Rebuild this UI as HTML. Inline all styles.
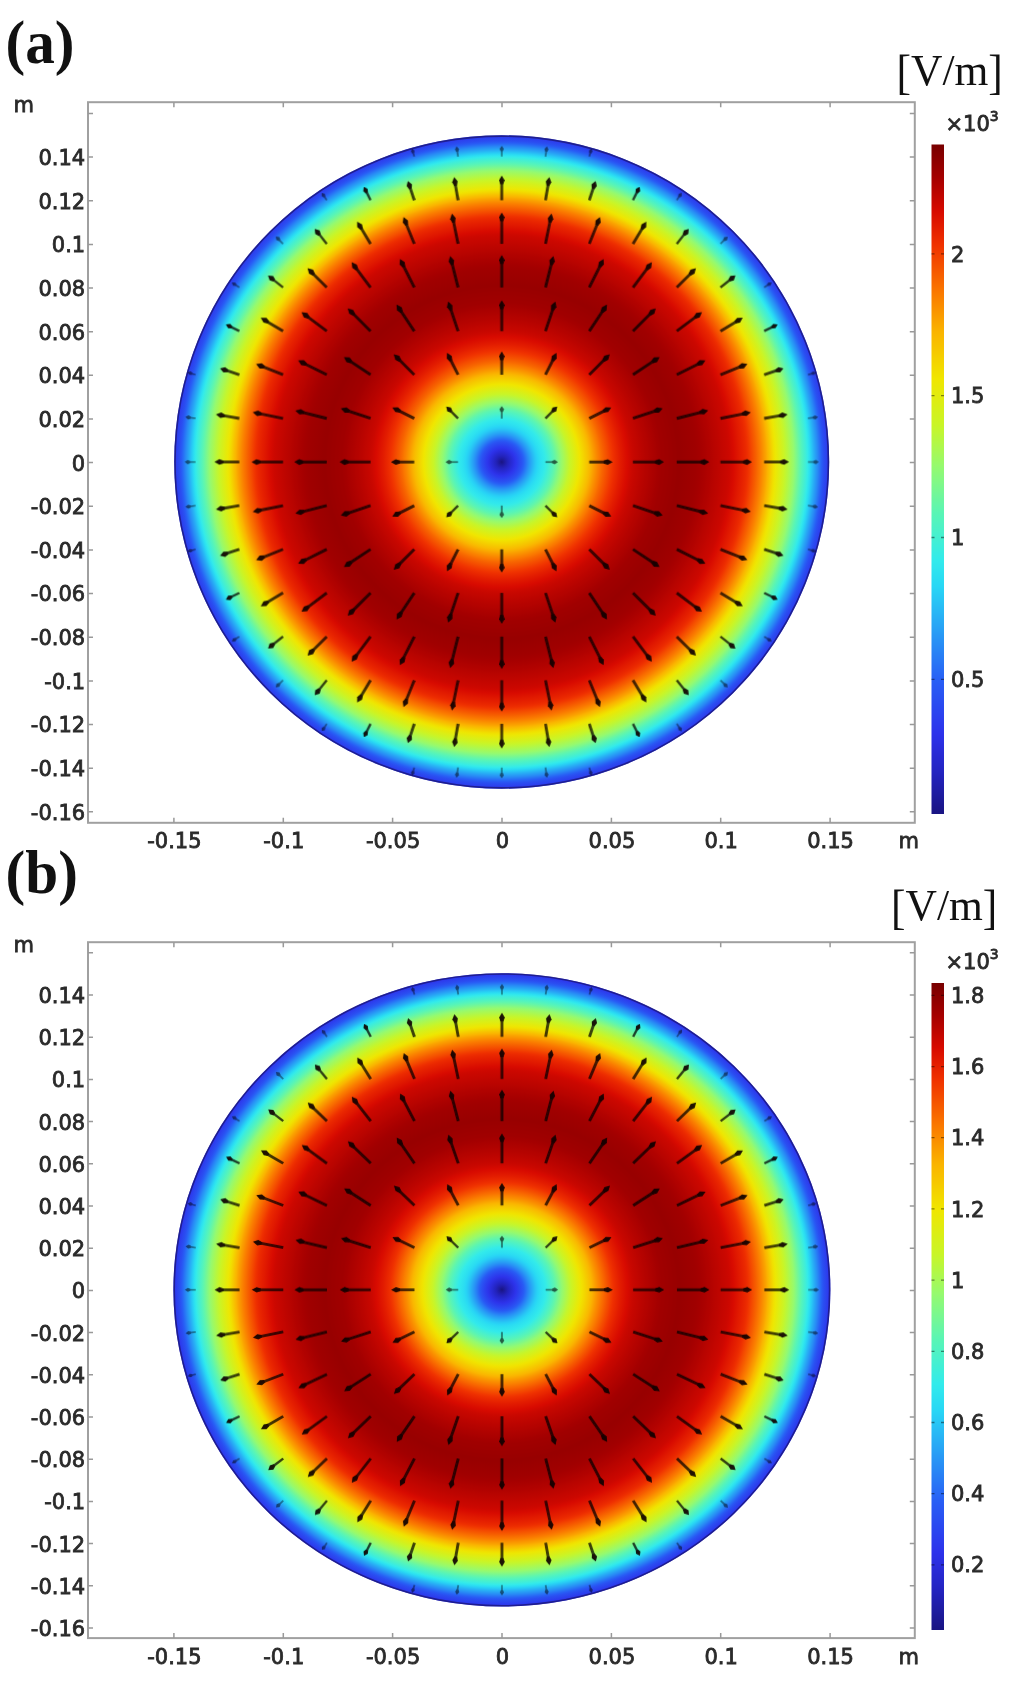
<!DOCTYPE html>
<html><head><meta charset="utf-8"><style>
html,body{margin:0;padding:0;background:#fff;width:1025px;height:1689px;overflow:hidden}
svg{display:block;filter:blur(0.45px)}
</style></head><body>
<svg width="1025" height="1689" viewBox="0 0 1025 1689">
<rect width="1025" height="1689" fill="#fff"/>
<defs><filter id="bl" x="-20%" y="-20%" width="140%" height="140%"><feGaussianBlur stdDeviation="0.7"/></filter></defs>
<style>.lb text{stroke:#2a2a2a;stroke-width:0.8px}</style>
<g class="lb" font-family="DejaVu Sans, Liberation Sans, sans-serif" font-size="21" fill="#2a2a2a">
<defs><radialGradient id="ga" gradientUnits="userSpaceOnUse" cx="0" cy="0" r="327.5"><stop offset="0.0000" stop-color="#191482"/><stop offset="0.0061" stop-color="#1c1996"/><stop offset="0.0122" stop-color="#201eaa"/><stop offset="0.0183" stop-color="#2323bc"/><stop offset="0.0244" stop-color="#2627c9"/><stop offset="0.0305" stop-color="#282bd6"/><stop offset="0.0366" stop-color="#2b2fe2"/><stop offset="0.0427" stop-color="#2d35ec"/><stop offset="0.0489" stop-color="#2c3eee"/><stop offset="0.0550" stop-color="#2b48f0"/><stop offset="0.0611" stop-color="#2a51f2"/><stop offset="0.0672" stop-color="#285ff5"/><stop offset="0.0733" stop-color="#2873f5"/><stop offset="0.0794" stop-color="#2888f5"/><stop offset="0.0855" stop-color="#289bf5"/><stop offset="0.0916" stop-color="#28acf5"/><stop offset="0.0977" stop-color="#28bdf5"/><stop offset="0.1038" stop-color="#28ccf5"/><stop offset="0.1099" stop-color="#28d7f5"/><stop offset="0.1160" stop-color="#2cdef1"/><stop offset="0.1221" stop-color="#2ee4ef"/><stop offset="0.1282" stop-color="#31e8ec"/><stop offset="0.1344" stop-color="#37ece5"/><stop offset="0.1405" stop-color="#40eed8"/><stop offset="0.1466" stop-color="#49f1cc"/><stop offset="0.1527" stop-color="#52f3bf"/><stop offset="0.1588" stop-color="#5cf5b2"/><stop offset="0.1649" stop-color="#6af6a1"/><stop offset="0.1710" stop-color="#7af88e"/><stop offset="0.1771" stop-color="#8af97c"/><stop offset="0.1832" stop-color="#98fa6b"/><stop offset="0.1893" stop-color="#a4f95b"/><stop offset="0.1954" stop-color="#b0f74a"/><stop offset="0.2015" stop-color="#bcf639"/><stop offset="0.2076" stop-color="#c8f528"/><stop offset="0.2137" stop-color="#d0f220"/><stop offset="0.2198" stop-color="#d8ef18"/><stop offset="0.2260" stop-color="#e0ec10"/><stop offset="0.2321" stop-color="#e8e908"/><stop offset="0.2382" stop-color="#f0e600"/><stop offset="0.2443" stop-color="#f2dd00"/><stop offset="0.2504" stop-color="#f4d400"/><stop offset="0.2565" stop-color="#f5cb00"/><stop offset="0.2626" stop-color="#f7c200"/><stop offset="0.2687" stop-color="#f9b800"/><stop offset="0.2748" stop-color="#faab00"/><stop offset="0.2809" stop-color="#fa9d00"/><stop offset="0.2870" stop-color="#fa9000"/><stop offset="0.2931" stop-color="#fa8300"/><stop offset="0.2992" stop-color="#fa7700"/><stop offset="0.3053" stop-color="#f86a00"/><stop offset="0.3115" stop-color="#f65f00"/><stop offset="0.3176" stop-color="#f55500"/><stop offset="0.3237" stop-color="#f44b00"/><stop offset="0.3298" stop-color="#f24100"/><stop offset="0.3359" stop-color="#f13700"/><stop offset="0.3420" stop-color="#ee2f00"/><stop offset="0.3481" stop-color="#ea2900"/><stop offset="0.3542" stop-color="#e72300"/><stop offset="0.3603" stop-color="#e31d00"/><stop offset="0.3664" stop-color="#e01800"/><stop offset="0.3725" stop-color="#dd1300"/><stop offset="0.3786" stop-color="#da0e00"/><stop offset="0.3847" stop-color="#d70a00"/><stop offset="0.3908" stop-color="#d10900"/><stop offset="0.3969" stop-color="#cb0800"/><stop offset="0.4031" stop-color="#c70700"/><stop offset="0.4092" stop-color="#c40600"/><stop offset="0.4153" stop-color="#c10600"/><stop offset="0.4214" stop-color="#be0500"/><stop offset="0.4275" stop-color="#bb0400"/><stop offset="0.4336" stop-color="#b80400"/><stop offset="0.4397" stop-color="#b50300"/><stop offset="0.4458" stop-color="#b30300"/><stop offset="0.4519" stop-color="#b00200"/><stop offset="0.4580" stop-color="#ad0200"/><stop offset="0.4641" stop-color="#ab0100"/><stop offset="0.4702" stop-color="#a80100"/><stop offset="0.4763" stop-color="#a50000"/><stop offset="0.4824" stop-color="#a30000"/><stop offset="0.4885" stop-color="#a00000"/><stop offset="0.4947" stop-color="#a00000"/><stop offset="0.5008" stop-color="#9e0000"/><stop offset="0.5069" stop-color="#9e0000"/><stop offset="0.5130" stop-color="#9c0000"/><stop offset="0.5191" stop-color="#9c0000"/><stop offset="0.5252" stop-color="#9a0000"/><stop offset="0.5313" stop-color="#9a0000"/><stop offset="0.5374" stop-color="#980000"/><stop offset="0.5435" stop-color="#980000"/><stop offset="0.5496" stop-color="#990000"/><stop offset="0.5557" stop-color="#9a0000"/><stop offset="0.5618" stop-color="#9b0000"/><stop offset="0.5679" stop-color="#9c0000"/><stop offset="0.5740" stop-color="#9d0000"/><stop offset="0.5802" stop-color="#9e0000"/><stop offset="0.5863" stop-color="#9f0000"/><stop offset="0.5924" stop-color="#a00000"/><stop offset="0.5985" stop-color="#a20000"/><stop offset="0.6046" stop-color="#a40000"/><stop offset="0.6107" stop-color="#a70000"/><stop offset="0.6168" stop-color="#a90100"/><stop offset="0.6229" stop-color="#ac0100"/><stop offset="0.6290" stop-color="#af0200"/><stop offset="0.6351" stop-color="#b10200"/><stop offset="0.6412" stop-color="#b40300"/><stop offset="0.6473" stop-color="#b70400"/><stop offset="0.6534" stop-color="#ba0400"/><stop offset="0.6595" stop-color="#bc0500"/><stop offset="0.6656" stop-color="#bf0500"/><stop offset="0.6718" stop-color="#c20600"/><stop offset="0.6779" stop-color="#c50600"/><stop offset="0.6840" stop-color="#c70700"/><stop offset="0.6901" stop-color="#ca0700"/><stop offset="0.6962" stop-color="#cd0800"/><stop offset="0.7023" stop-color="#d30900"/><stop offset="0.7084" stop-color="#d80b00"/><stop offset="0.7145" stop-color="#db1000"/><stop offset="0.7206" stop-color="#de1500"/><stop offset="0.7267" stop-color="#e11a00"/><stop offset="0.7328" stop-color="#e41e00"/><stop offset="0.7389" stop-color="#e72300"/><stop offset="0.7450" stop-color="#ea2800"/><stop offset="0.7511" stop-color="#ee2f00"/><stop offset="0.7573" stop-color="#f13a00"/><stop offset="0.7634" stop-color="#f34700"/><stop offset="0.7695" stop-color="#f55300"/><stop offset="0.7756" stop-color="#f65f00"/><stop offset="0.7817" stop-color="#f86c00"/><stop offset="0.7878" stop-color="#fa7800"/><stop offset="0.7939" stop-color="#fa8600"/><stop offset="0.8000" stop-color="#fa9500"/><stop offset="0.8061" stop-color="#faa300"/><stop offset="0.8122" stop-color="#fab400"/><stop offset="0.8183" stop-color="#f7c200"/><stop offset="0.8244" stop-color="#f4d100"/><stop offset="0.8305" stop-color="#f1df00"/><stop offset="0.8366" stop-color="#ece804"/><stop offset="0.8427" stop-color="#e4ea0c"/><stop offset="0.8489" stop-color="#dcee14"/><stop offset="0.8550" stop-color="#d4f01c"/><stop offset="0.8611" stop-color="#ccf424"/><stop offset="0.8672" stop-color="#c2f630"/><stop offset="0.8733" stop-color="#b7f73f"/><stop offset="0.8794" stop-color="#acf84f"/><stop offset="0.8855" stop-color="#a1f95e"/><stop offset="0.8916" stop-color="#96fa6e"/><stop offset="0.8977" stop-color="#85f982"/><stop offset="0.9038" stop-color="#74f796"/><stop offset="0.9099" stop-color="#63f6aa"/><stop offset="0.9160" stop-color="#55f4bb"/><stop offset="0.9221" stop-color="#4af1c9"/><stop offset="0.9282" stop-color="#40eed8"/><stop offset="0.9344" stop-color="#34ebe9"/><stop offset="0.9405" stop-color="#2bdef2"/><stop offset="0.9466" stop-color="#28caf5"/><stop offset="0.9527" stop-color="#28b3f5"/><stop offset="0.9588" stop-color="#289ef5"/><stop offset="0.9649" stop-color="#288af5"/><stop offset="0.9710" stop-color="#2873f5"/><stop offset="0.9771" stop-color="#285df5"/><stop offset="0.9832" stop-color="#2a4ef1"/><stop offset="0.9893" stop-color="#2b45ef"/><stop offset="0.9954" stop-color="#2c3bed"/></radialGradient>
<linearGradient id="ca" x1="0" y1="0" x2="0" y2="1"><stop offset="0.00" stop-color="#780000"/><stop offset="0.01" stop-color="#810000"/><stop offset="0.02" stop-color="#8a0000"/><stop offset="0.03" stop-color="#930000"/><stop offset="0.04" stop-color="#9c0000"/><stop offset="0.05" stop-color="#a50000"/><stop offset="0.06" stop-color="#af0200"/><stop offset="0.07" stop-color="#b90400"/><stop offset="0.08" stop-color="#c30600"/><stop offset="0.09" stop-color="#cd0800"/><stop offset="0.10" stop-color="#d70a00"/><stop offset="0.11" stop-color="#dc1200"/><stop offset="0.12" stop-color="#e11a00"/><stop offset="0.13" stop-color="#e62200"/><stop offset="0.14" stop-color="#eb2a00"/><stop offset="0.15" stop-color="#f03200"/><stop offset="0.16" stop-color="#f13c00"/><stop offset="0.17" stop-color="#f34600"/><stop offset="0.18" stop-color="#f45000"/><stop offset="0.19" stop-color="#f65a00"/><stop offset="0.20" stop-color="#f76400"/><stop offset="0.21" stop-color="#f96e00"/><stop offset="0.22" stop-color="#fa7800"/><stop offset="0.23" stop-color="#fa8200"/><stop offset="0.24" stop-color="#fa8c00"/><stop offset="0.25" stop-color="#fa9600"/><stop offset="0.26" stop-color="#faa000"/><stop offset="0.27" stop-color="#faaa00"/><stop offset="0.28" stop-color="#fab400"/><stop offset="0.29" stop-color="#f9bb00"/><stop offset="0.30" stop-color="#f7c200"/><stop offset="0.31" stop-color="#f6c900"/><stop offset="0.32" stop-color="#f4d100"/><stop offset="0.33" stop-color="#f3d800"/><stop offset="0.34" stop-color="#f1df00"/><stop offset="0.35" stop-color="#f0e600"/><stop offset="0.36" stop-color="#eae806"/><stop offset="0.37" stop-color="#e5ea0b"/><stop offset="0.38" stop-color="#dfec11"/><stop offset="0.39" stop-color="#d9ef17"/><stop offset="0.40" stop-color="#d3f11d"/><stop offset="0.41" stop-color="#cef322"/><stop offset="0.42" stop-color="#c8f528"/><stop offset="0.43" stop-color="#c0f634"/><stop offset="0.44" stop-color="#b7f73f"/><stop offset="0.45" stop-color="#aff84b"/><stop offset="0.46" stop-color="#a7f857"/><stop offset="0.47" stop-color="#9ef962"/><stop offset="0.48" stop-color="#96fa6e"/><stop offset="0.49" stop-color="#8df978"/><stop offset="0.50" stop-color="#85f982"/><stop offset="0.51" stop-color="#7cf88c"/><stop offset="0.52" stop-color="#74f796"/><stop offset="0.53" stop-color="#6bf6a0"/><stop offset="0.54" stop-color="#63f6aa"/><stop offset="0.55" stop-color="#5af5b4"/><stop offset="0.56" stop-color="#54f4bc"/><stop offset="0.57" stop-color="#4ff2c4"/><stop offset="0.58" stop-color="#49f1cc"/><stop offset="0.59" stop-color="#43efd3"/><stop offset="0.60" stop-color="#3deedb"/><stop offset="0.61" stop-color="#38ece3"/><stop offset="0.62" stop-color="#32ebeb"/><stop offset="0.63" stop-color="#30e6ee"/><stop offset="0.64" stop-color="#2de1f0"/><stop offset="0.65" stop-color="#2adcf2"/><stop offset="0.66" stop-color="#28d7f5"/><stop offset="0.67" stop-color="#28cef5"/><stop offset="0.68" stop-color="#28c6f5"/><stop offset="0.69" stop-color="#28bdf5"/><stop offset="0.70" stop-color="#28b5f5"/><stop offset="0.71" stop-color="#28acf5"/><stop offset="0.72" stop-color="#28a4f5"/><stop offset="0.73" stop-color="#289bf5"/><stop offset="0.74" stop-color="#2892f5"/><stop offset="0.75" stop-color="#288af5"/><stop offset="0.76" stop-color="#2881f5"/><stop offset="0.77" stop-color="#2879f5"/><stop offset="0.78" stop-color="#2870f5"/><stop offset="0.79" stop-color="#2868f5"/><stop offset="0.80" stop-color="#285ff5"/><stop offset="0.81" stop-color="#2959f4"/><stop offset="0.82" stop-color="#2954f2"/><stop offset="0.83" stop-color="#2a4ef1"/><stop offset="0.84" stop-color="#2a48f0"/><stop offset="0.85" stop-color="#2b43ef"/><stop offset="0.86" stop-color="#2c3dee"/><stop offset="0.87" stop-color="#2c38ec"/><stop offset="0.88" stop-color="#2d32eb"/><stop offset="0.89" stop-color="#2b30e4"/><stop offset="0.90" stop-color="#2a2ddc"/><stop offset="0.91" stop-color="#282ad4"/><stop offset="0.92" stop-color="#2628cd"/><stop offset="0.93" stop-color="#2526c6"/><stop offset="0.94" stop-color="#2323be"/><stop offset="0.95" stop-color="#2120b4"/><stop offset="0.96" stop-color="#201eaa"/><stop offset="0.97" stop-color="#1e1ca0"/><stop offset="0.98" stop-color="#1c1996"/><stop offset="0.99" stop-color="#1b168c"/><stop offset="1.00" stop-color="#191482"/></linearGradient></defs>
<g transform="translate(501.70,462.00) scale(1,0.9976)">
<circle cx="0" cy="0" r="327.5" fill="url(#ga)"/>
<circle cx="0" cy="0" r="326.7" fill="none" stroke="#1c1878" stroke-width="1.6" stroke-opacity="0.8"/>
<g stroke="#0a0202" fill="#0a0202" filter="url(#bl)"><g opacity="0.50"><line x1="-306.2" y1="87.5" x2="-310.5" y2="88.7" stroke-width="1.8" stroke-opacity="0.8"/><polygon points="-314.3,89.8 -312.2,87.2 -309.9,87.5 -309.3,89.4 -311.2,90.9" stroke="none"/></g><g opacity="0.50"><line x1="-306.2" y1="43.7" x2="-312.1" y2="44.6" stroke-width="1.8" stroke-opacity="0.8"/><polygon points="-316.4,45.2 -313.8,42.7 -311.2,43.4 -310.9,45.5 -313.2,46.8" stroke="none"/></g><g opacity="0.50"><line x1="-306.2" y1="0.0" x2="-312.7" y2="0.0" stroke-width="1.8" stroke-opacity="0.8"/><polygon points="-317.1,0.0 -314.1,-2.1 -311.6,-1.1 -311.6,1.1 -314.1,2.1" stroke="none"/></g><g opacity="0.50"><line x1="-306.2" y1="-43.7" x2="-312.1" y2="-44.6" stroke-width="1.8" stroke-opacity="0.8"/><polygon points="-316.4,-45.2 -313.2,-46.8 -310.9,-45.5 -311.2,-43.4 -313.8,-42.7" stroke="none"/></g><g opacity="0.50"><line x1="-306.2" y1="-87.5" x2="-310.5" y2="-88.7" stroke-width="1.8" stroke-opacity="0.8"/><polygon points="-314.3,-89.8 -311.2,-90.9 -309.3,-89.4 -309.9,-87.5 -312.2,-87.2" stroke="none"/></g><g opacity="0.50"><line x1="-262.4" y1="175.0" x2="-266.6" y2="177.7" stroke-width="1.8" stroke-opacity="0.8"/><polygon points="-270.0,180.0 -268.8,176.8 -266.3,176.4 -265.2,178.0 -266.6,180.1" stroke="none"/></g><g opacity="0.92"><line x1="-262.4" y1="131.2" x2="-271.1" y2="135.5" stroke-width="2.4" stroke-opacity="0.8"/><polygon points="-275.9,137.9 -273.7,134.1 -270.4,133.8 -269.3,136.0 -271.5,138.5" stroke="none"/></g><g opacity="0.92"><line x1="-262.4" y1="87.5" x2="-275.5" y2="91.8" stroke-width="2.9" stroke-opacity="0.8"/><polygon points="-281.7,93.9 -278.3,89.8 -274.4,90.0 -273.5,92.6 -276.6,95.1" stroke="none"/></g><g opacity="0.92"><line x1="-262.4" y1="43.7" x2="-278.7" y2="46.5" stroke-width="2.9" stroke-opacity="0.8"/><polygon points="-285.8,47.6 -281.4,44.1 -277.2,44.8 -276.7,47.5 -280.5,49.6" stroke="none"/></g><g opacity="0.92"><line x1="-262.4" y1="0.0" x2="-280.1" y2="0.0" stroke-width="2.9" stroke-opacity="0.8"/><polygon points="-287.3,0.0 -282.4,-2.8 -278.3,-1.4 -278.3,1.4 -282.4,2.8" stroke="none"/></g><g opacity="0.92"><line x1="-262.4" y1="-43.7" x2="-278.7" y2="-46.5" stroke-width="2.9" stroke-opacity="0.8"/><polygon points="-285.8,-47.6 -280.5,-49.6 -276.7,-47.5 -277.2,-44.8 -281.4,-44.1" stroke="none"/></g><g opacity="0.92"><line x1="-262.4" y1="-87.5" x2="-275.5" y2="-91.8" stroke-width="2.9" stroke-opacity="0.8"/><polygon points="-281.7,-93.9 -276.6,-95.1 -273.5,-92.6 -274.4,-90.0 -278.3,-89.8" stroke="none"/></g><g opacity="0.92"><line x1="-262.4" y1="-131.2" x2="-271.1" y2="-135.5" stroke-width="2.4" stroke-opacity="0.8"/><polygon points="-275.9,-137.9 -271.5,-138.5 -269.3,-136.0 -270.4,-133.8 -273.7,-134.1" stroke="none"/></g><g opacity="0.50"><line x1="-262.4" y1="-175.0" x2="-266.6" y2="-177.7" stroke-width="1.8" stroke-opacity="0.8"/><polygon points="-270.0,-180.0 -266.6,-180.1 -265.2,-178.0 -266.3,-176.4 -268.8,-176.8" stroke="none"/></g><g opacity="0.50"><line x1="-218.7" y1="218.7" x2="-222.9" y2="222.9" stroke-width="1.8" stroke-opacity="0.8"/><polygon points="-226.0,226.0 -225.4,222.4 -222.9,221.4 -221.4,222.9 -222.4,225.4" stroke="none"/></g><g opacity="0.92"><line x1="-218.7" y1="175.0" x2="-228.8" y2="183.0" stroke-width="2.4" stroke-opacity="0.8"/><polygon points="-233.7,187.0 -232.1,182.1 -228.4,181.0 -226.7,183.1 -228.6,186.5" stroke="none"/></g><g opacity="0.92"><line x1="-218.7" y1="131.2" x2="-234.9" y2="140.9" stroke-width="2.9" stroke-opacity="0.8"/><polygon points="-241.0,144.6 -238.2,139.7 -234.0,138.8 -232.6,141.2 -235.4,144.5" stroke="none"/></g><g opacity="0.92"><line x1="-218.7" y1="87.5" x2="-238.9" y2="95.6" stroke-width="2.9" stroke-opacity="0.8"/><polygon points="-245.6,98.2 -242.1,93.8 -237.8,93.6 -236.7,96.2 -240.0,99.0" stroke="none"/></g><g opacity="0.92"><line x1="-218.7" y1="43.7" x2="-241.9" y2="48.4" stroke-width="2.9" stroke-opacity="0.8"/><polygon points="-249.0,49.8 -244.7,46.1 -240.4,46.7 -239.9,49.4 -243.6,51.6" stroke="none"/></g><g opacity="0.92"><line x1="-218.7" y1="0.0" x2="-243.0" y2="0.0" stroke-width="2.9" stroke-opacity="0.8"/><polygon points="-250.2,0.0 -245.3,-2.8 -241.2,-1.4 -241.2,1.4 -245.3,2.8" stroke="none"/></g><g opacity="0.92"><line x1="-218.7" y1="-43.7" x2="-241.9" y2="-48.4" stroke-width="2.9" stroke-opacity="0.8"/><polygon points="-249.0,-49.8 -243.6,-51.6 -239.9,-49.4 -240.4,-46.7 -244.7,-46.1" stroke="none"/></g><g opacity="0.92"><line x1="-218.7" y1="-87.5" x2="-238.9" y2="-95.6" stroke-width="2.9" stroke-opacity="0.8"/><polygon points="-245.6,-98.2 -240.0,-99.0 -236.7,-96.2 -237.8,-93.6 -242.1,-93.8" stroke="none"/></g><g opacity="0.92"><line x1="-218.7" y1="-131.2" x2="-234.9" y2="-140.9" stroke-width="2.9" stroke-opacity="0.8"/><polygon points="-241.0,-144.6 -235.4,-144.5 -232.6,-141.2 -234.0,-138.8 -238.2,-139.7" stroke="none"/></g><g opacity="0.92"><line x1="-218.7" y1="-175.0" x2="-228.8" y2="-183.0" stroke-width="2.4" stroke-opacity="0.8"/><polygon points="-233.7,-187.0 -228.6,-186.5 -226.7,-183.1 -228.4,-181.0 -232.1,-182.1" stroke="none"/></g><g opacity="0.50"><line x1="-218.7" y1="-218.7" x2="-222.9" y2="-222.9" stroke-width="1.8" stroke-opacity="0.8"/><polygon points="-226.0,-226.0 -222.4,-225.4 -221.4,-222.9 -222.9,-221.4 -225.4,-222.4" stroke="none"/></g><g opacity="0.50"><line x1="-175.0" y1="262.4" x2="-177.7" y2="266.6" stroke-width="1.8" stroke-opacity="0.8"/><polygon points="-180.0,270.0 -180.1,266.6 -178.0,265.2 -176.4,266.3 -176.8,268.8" stroke="none"/></g><g opacity="0.92"><line x1="-175.0" y1="218.7" x2="-183.0" y2="228.8" stroke-width="2.4" stroke-opacity="0.8"/><polygon points="-187.0,233.7 -186.5,228.6 -183.1,226.7 -181.0,228.4 -182.1,232.1" stroke="none"/></g><g opacity="0.92"><line x1="-175.0" y1="175.0" x2="-189.1" y2="189.1" stroke-width="2.9" stroke-opacity="0.8"/><polygon points="-194.2,194.2 -192.7,188.7 -188.8,186.8 -186.8,188.8 -188.7,192.7" stroke="none"/></g><g opacity="0.92"><line x1="-175.0" y1="131.2" x2="-194.4" y2="145.8" stroke-width="2.9" stroke-opacity="0.8"/><polygon points="-200.2,150.1 -197.9,144.9 -193.8,143.6 -192.1,145.8 -194.5,149.4" stroke="none"/></g><g opacity="0.92"><line x1="-175.0" y1="87.5" x2="-197.2" y2="98.6" stroke-width="2.9" stroke-opacity="0.8"/><polygon points="-203.6,101.8 -200.4,97.1 -196.2,96.5 -194.9,99.0 -197.9,102.1" stroke="none"/></g><g opacity="0.92"><line x1="-175.0" y1="43.7" x2="-199.4" y2="49.8" stroke-width="2.9" stroke-opacity="0.8"/><polygon points="-206.4,51.6 -202.2,47.7 -198.0,48.1 -197.3,50.8 -200.9,53.1" stroke="none"/></g><g opacity="0.92"><line x1="-175.0" y1="0.0" x2="-200.3" y2="0.0" stroke-width="2.9" stroke-opacity="0.8"/><polygon points="-207.5,0.0 -202.5,-2.8 -198.5,-1.4 -198.5,1.4 -202.5,2.8" stroke="none"/></g><g opacity="0.92"><line x1="-175.0" y1="-43.7" x2="-199.4" y2="-49.8" stroke-width="2.9" stroke-opacity="0.8"/><polygon points="-206.4,-51.6 -200.9,-53.1 -197.3,-50.8 -198.0,-48.1 -202.2,-47.7" stroke="none"/></g><g opacity="0.92"><line x1="-175.0" y1="-87.5" x2="-197.2" y2="-98.6" stroke-width="2.9" stroke-opacity="0.8"/><polygon points="-203.6,-101.8 -197.9,-102.1 -194.9,-99.0 -196.2,-96.5 -200.4,-97.1" stroke="none"/></g><g opacity="0.92"><line x1="-175.0" y1="-131.2" x2="-194.4" y2="-145.8" stroke-width="2.9" stroke-opacity="0.8"/><polygon points="-200.2,-150.1 -194.5,-149.4 -192.1,-145.8 -193.8,-143.6 -197.9,-144.9" stroke="none"/></g><g opacity="0.92"><line x1="-175.0" y1="-175.0" x2="-189.1" y2="-189.1" stroke-width="2.9" stroke-opacity="0.8"/><polygon points="-194.2,-194.2 -188.7,-192.7 -186.8,-188.8 -188.8,-186.8 -192.7,-188.7" stroke="none"/></g><g opacity="0.92"><line x1="-175.0" y1="-218.7" x2="-183.0" y2="-228.8" stroke-width="2.4" stroke-opacity="0.8"/><polygon points="-187.0,-233.7 -182.1,-232.1 -181.0,-228.4 -183.1,-226.7 -186.5,-228.6" stroke="none"/></g><g opacity="0.50"><line x1="-175.0" y1="-262.4" x2="-177.7" y2="-266.6" stroke-width="1.8" stroke-opacity="0.8"/><polygon points="-180.0,-270.0 -176.8,-268.8 -176.4,-266.3 -178.0,-265.2 -180.1,-266.6" stroke="none"/></g><g opacity="0.92"><line x1="-131.2" y1="262.4" x2="-135.5" y2="271.1" stroke-width="2.4" stroke-opacity="0.8"/><polygon points="-137.9,275.9 -138.5,271.5 -136.0,269.3 -133.8,270.4 -134.1,273.7" stroke="none"/></g><g opacity="0.92"><line x1="-131.2" y1="218.7" x2="-140.9" y2="234.9" stroke-width="2.9" stroke-opacity="0.8"/><polygon points="-144.6,241.0 -144.5,235.4 -141.2,232.6 -138.8,234.0 -139.7,238.2" stroke="none"/></g><g opacity="0.92"><line x1="-131.2" y1="175.0" x2="-145.8" y2="194.4" stroke-width="2.9" stroke-opacity="0.8"/><polygon points="-150.1,200.2 -149.4,194.5 -145.8,192.1 -143.6,193.8 -144.9,197.9" stroke="none"/></g><g opacity="0.92"><line x1="-131.2" y1="131.2" x2="-148.9" y2="148.9" stroke-width="2.9" stroke-opacity="0.8"/><polygon points="-154.0,154.0 -152.5,148.6 -148.7,146.7 -146.7,148.7 -148.6,152.5" stroke="none"/></g><g opacity="0.92"><line x1="-131.2" y1="87.5" x2="-151.8" y2="101.2" stroke-width="2.9" stroke-opacity="0.8"/><polygon points="-157.8,105.2 -155.2,100.1 -151.1,99.0 -149.5,101.4 -152.1,104.8" stroke="none"/></g><g opacity="0.92"><line x1="-131.2" y1="43.7" x2="-154.0" y2="51.3" stroke-width="2.9" stroke-opacity="0.8"/><polygon points="-160.9,53.6 -157.1,49.4 -152.8,49.4 -151.9,52.1 -155.3,54.7" stroke="none"/></g><g opacity="0.92"><line x1="-131.2" y1="0.0" x2="-155.0" y2="0.0" stroke-width="2.9" stroke-opacity="0.8"/><polygon points="-162.2,0.0 -157.3,-2.8 -153.2,-1.4 -153.2,1.4 -157.3,2.8" stroke="none"/></g><g opacity="0.92"><line x1="-131.2" y1="-43.7" x2="-154.0" y2="-51.3" stroke-width="2.9" stroke-opacity="0.8"/><polygon points="-160.9,-53.6 -155.3,-54.7 -151.9,-52.1 -152.8,-49.4 -157.1,-49.4" stroke="none"/></g><g opacity="0.92"><line x1="-131.2" y1="-87.5" x2="-151.8" y2="-101.2" stroke-width="2.9" stroke-opacity="0.8"/><polygon points="-157.8,-105.2 -152.1,-104.8 -149.5,-101.4 -151.1,-99.0 -155.2,-100.1" stroke="none"/></g><g opacity="0.92"><line x1="-131.2" y1="-131.2" x2="-148.9" y2="-148.9" stroke-width="2.9" stroke-opacity="0.8"/><polygon points="-154.0,-154.0 -148.6,-152.5 -146.7,-148.7 -148.7,-146.7 -152.5,-148.6" stroke="none"/></g><g opacity="0.92"><line x1="-131.2" y1="-175.0" x2="-145.8" y2="-194.4" stroke-width="2.9" stroke-opacity="0.8"/><polygon points="-150.1,-200.2 -144.9,-197.9 -143.6,-193.8 -145.8,-192.1 -149.4,-194.5" stroke="none"/></g><g opacity="0.92"><line x1="-131.2" y1="-218.7" x2="-140.9" y2="-234.9" stroke-width="2.9" stroke-opacity="0.8"/><polygon points="-144.6,-241.0 -139.7,-238.2 -138.8,-234.0 -141.2,-232.6 -144.5,-235.4" stroke="none"/></g><g opacity="0.92"><line x1="-131.2" y1="-262.4" x2="-135.5" y2="-271.1" stroke-width="2.4" stroke-opacity="0.8"/><polygon points="-137.9,-275.9 -134.1,-273.7 -133.8,-270.4 -136.0,-269.3 -138.5,-271.5" stroke="none"/></g><g opacity="0.50"><line x1="-87.5" y1="306.2" x2="-88.7" y2="310.5" stroke-width="1.8" stroke-opacity="0.8"/><polygon points="-89.8,314.3 -90.9,311.2 -89.4,309.3 -87.5,309.9 -87.2,312.2" stroke="none"/></g><g opacity="0.92"><line x1="-87.5" y1="262.4" x2="-91.8" y2="275.5" stroke-width="2.9" stroke-opacity="0.8"/><polygon points="-93.9,281.7 -95.1,276.6 -92.6,273.5 -90.0,274.4 -89.8,278.3" stroke="none"/></g><g opacity="0.92"><line x1="-87.5" y1="218.7" x2="-95.6" y2="238.9" stroke-width="2.9" stroke-opacity="0.8"/><polygon points="-98.2,245.6 -99.0,240.0 -96.2,236.7 -93.6,237.8 -93.8,242.1" stroke="none"/></g><g opacity="0.92"><line x1="-87.5" y1="175.0" x2="-98.6" y2="197.2" stroke-width="2.9" stroke-opacity="0.8"/><polygon points="-101.8,203.6 -102.1,197.9 -99.0,194.9 -96.5,196.2 -97.1,200.4" stroke="none"/></g><g opacity="0.92"><line x1="-87.5" y1="131.2" x2="-101.2" y2="151.8" stroke-width="2.9" stroke-opacity="0.8"/><polygon points="-105.2,157.8 -104.8,152.1 -101.4,149.5 -99.0,151.1 -100.1,155.2" stroke="none"/></g><g opacity="0.92"><line x1="-87.5" y1="87.5" x2="-102.9" y2="102.9" stroke-width="2.9" stroke-opacity="0.8"/><polygon points="-108.0,108.0 -106.4,102.5 -102.6,100.6 -100.6,102.6 -102.5,106.4" stroke="none"/></g><g opacity="0.92"><line x1="-87.5" y1="43.7" x2="-103.0" y2="51.5" stroke-width="2.9" stroke-opacity="0.8"/><polygon points="-109.5,54.7 -106.3,50.0 -102.0,49.5 -100.8,52.0 -103.8,55.0" stroke="none"/></g><g opacity="0.92"><line x1="-87.5" y1="0.0" x2="-103.7" y2="0.0" stroke-width="2.9" stroke-opacity="0.8"/><polygon points="-110.9,0.0 -106.0,-2.8 -101.9,-1.4 -101.9,1.4 -106.0,2.8" stroke="none"/></g><g opacity="0.92"><line x1="-87.5" y1="-43.7" x2="-103.0" y2="-51.5" stroke-width="2.9" stroke-opacity="0.8"/><polygon points="-109.5,-54.7 -103.8,-55.0 -100.8,-52.0 -102.0,-49.5 -106.3,-50.0" stroke="none"/></g><g opacity="0.92"><line x1="-87.5" y1="-87.5" x2="-102.9" y2="-102.9" stroke-width="2.9" stroke-opacity="0.8"/><polygon points="-108.0,-108.0 -102.5,-106.4 -100.6,-102.6 -102.6,-100.6 -106.4,-102.5" stroke="none"/></g><g opacity="0.92"><line x1="-87.5" y1="-131.2" x2="-101.2" y2="-151.8" stroke-width="2.9" stroke-opacity="0.8"/><polygon points="-105.2,-157.8 -100.1,-155.2 -99.0,-151.1 -101.4,-149.5 -104.8,-152.1" stroke="none"/></g><g opacity="0.92"><line x1="-87.5" y1="-175.0" x2="-98.6" y2="-197.2" stroke-width="2.9" stroke-opacity="0.8"/><polygon points="-101.8,-203.6 -97.1,-200.4 -96.5,-196.2 -99.0,-194.9 -102.1,-197.9" stroke="none"/></g><g opacity="0.92"><line x1="-87.5" y1="-218.7" x2="-95.6" y2="-238.9" stroke-width="2.9" stroke-opacity="0.8"/><polygon points="-98.2,-245.6 -93.8,-242.1 -93.6,-237.8 -96.2,-236.7 -99.0,-240.0" stroke="none"/></g><g opacity="0.92"><line x1="-87.5" y1="-262.4" x2="-91.8" y2="-275.5" stroke-width="2.9" stroke-opacity="0.8"/><polygon points="-93.9,-281.7 -89.8,-278.3 -90.0,-274.4 -92.6,-273.5 -95.1,-276.6" stroke="none"/></g><g opacity="0.50"><line x1="-87.5" y1="-306.2" x2="-88.7" y2="-310.5" stroke-width="1.8" stroke-opacity="0.8"/><polygon points="-89.8,-314.3 -87.2,-312.2 -87.5,-309.9 -89.4,-309.3 -90.9,-311.2" stroke="none"/></g><g opacity="0.50"><line x1="-43.7" y1="306.2" x2="-44.6" y2="312.1" stroke-width="1.8" stroke-opacity="0.8"/><polygon points="-45.2,316.4 -46.8,313.2 -45.5,310.9 -43.4,311.2 -42.7,313.8" stroke="none"/></g><g opacity="0.92"><line x1="-43.7" y1="262.4" x2="-46.5" y2="278.7" stroke-width="2.9" stroke-opacity="0.8"/><polygon points="-47.6,285.8 -49.6,280.5 -47.5,276.7 -44.8,277.2 -44.1,281.4" stroke="none"/></g><g opacity="0.92"><line x1="-43.7" y1="218.7" x2="-48.4" y2="241.9" stroke-width="2.9" stroke-opacity="0.8"/><polygon points="-49.8,249.0 -51.6,243.6 -49.4,239.9 -46.7,240.4 -46.1,244.7" stroke="none"/></g><g opacity="0.92"><line x1="-43.7" y1="175.0" x2="-49.8" y2="199.4" stroke-width="2.9" stroke-opacity="0.8"/><polygon points="-51.6,206.4 -53.1,200.9 -50.8,197.3 -48.1,198.0 -47.7,202.2" stroke="none"/></g><g opacity="0.92"><line x1="-43.7" y1="131.2" x2="-51.3" y2="154.0" stroke-width="2.9" stroke-opacity="0.8"/><polygon points="-53.6,160.9 -54.7,155.3 -52.1,151.9 -49.4,152.8 -49.4,157.1" stroke="none"/></g><g opacity="0.92"><line x1="-43.7" y1="87.5" x2="-51.5" y2="103.0" stroke-width="2.9" stroke-opacity="0.8"/><polygon points="-54.7,109.5 -55.0,103.8 -52.0,100.8 -49.5,102.0 -50.0,106.3" stroke="none"/></g><g opacity="0.92"><line x1="-43.7" y1="43.7" x2="-51.4" y2="51.4" stroke-width="2.4" stroke-opacity="0.8"/><polygon points="-55.5,55.5 -54.5,50.8 -51.3,49.5 -49.5,51.3 -50.8,54.5" stroke="none"/></g><g opacity="0.62"><line x1="-43.7" y1="0.0" x2="-51.4" y2="0.0" stroke-width="1.8" stroke-opacity="0.8"/><polygon points="-56.2,0.0 -52.9,-2.3 -50.2,-1.1 -50.2,1.1 -52.9,2.3" stroke="none"/></g><g opacity="0.92"><line x1="-43.7" y1="-43.7" x2="-51.4" y2="-51.4" stroke-width="2.4" stroke-opacity="0.8"/><polygon points="-55.5,-55.5 -50.8,-54.5 -49.5,-51.3 -51.3,-49.5 -54.5,-50.8" stroke="none"/></g><g opacity="0.92"><line x1="-43.7" y1="-87.5" x2="-51.5" y2="-103.0" stroke-width="2.9" stroke-opacity="0.8"/><polygon points="-54.7,-109.5 -50.0,-106.3 -49.5,-102.0 -52.0,-100.8 -55.0,-103.8" stroke="none"/></g><g opacity="0.92"><line x1="-43.7" y1="-131.2" x2="-51.3" y2="-154.0" stroke-width="2.9" stroke-opacity="0.8"/><polygon points="-53.6,-160.9 -49.4,-157.1 -49.4,-152.8 -52.1,-151.9 -54.7,-155.3" stroke="none"/></g><g opacity="0.92"><line x1="-43.7" y1="-175.0" x2="-49.8" y2="-199.4" stroke-width="2.9" stroke-opacity="0.8"/><polygon points="-51.6,-206.4 -47.7,-202.2 -48.1,-198.0 -50.8,-197.3 -53.1,-200.9" stroke="none"/></g><g opacity="0.92"><line x1="-43.7" y1="-218.7" x2="-48.4" y2="-241.9" stroke-width="2.9" stroke-opacity="0.8"/><polygon points="-49.8,-249.0 -46.1,-244.7 -46.7,-240.4 -49.4,-239.9 -51.6,-243.6" stroke="none"/></g><g opacity="0.92"><line x1="-43.7" y1="-262.4" x2="-46.5" y2="-278.7" stroke-width="2.9" stroke-opacity="0.8"/><polygon points="-47.6,-285.8 -44.1,-281.4 -44.8,-277.2 -47.5,-276.7 -49.6,-280.5" stroke="none"/></g><g opacity="0.50"><line x1="-43.7" y1="-306.2" x2="-44.6" y2="-312.1" stroke-width="1.8" stroke-opacity="0.8"/><polygon points="-45.2,-316.4 -42.7,-313.8 -43.4,-311.2 -45.5,-310.9 -46.8,-313.2" stroke="none"/></g><g opacity="0.50"><line x1="0.0" y1="306.2" x2="0.0" y2="312.7" stroke-width="1.8" stroke-opacity="0.8"/><polygon points="0.0,317.1 -2.1,314.1 -1.1,311.6 1.1,311.6 2.1,314.1" stroke="none"/></g><g opacity="0.92"><line x1="0.0" y1="262.4" x2="0.0" y2="280.1" stroke-width="2.9" stroke-opacity="0.8"/><polygon points="0.0,287.3 -2.8,282.4 -1.4,278.3 1.4,278.3 2.8,282.4" stroke="none"/></g><g opacity="0.92"><line x1="0.0" y1="218.7" x2="0.0" y2="243.0" stroke-width="2.9" stroke-opacity="0.8"/><polygon points="0.0,250.2 -2.8,245.3 -1.4,241.2 1.4,241.2 2.8,245.3" stroke="none"/></g><g opacity="0.92"><line x1="0.0" y1="175.0" x2="0.0" y2="200.3" stroke-width="2.9" stroke-opacity="0.8"/><polygon points="0.0,207.5 -2.8,202.5 -1.4,198.5 1.4,198.5 2.8,202.5" stroke="none"/></g><g opacity="0.92"><line x1="0.0" y1="131.2" x2="0.0" y2="155.0" stroke-width="2.9" stroke-opacity="0.8"/><polygon points="0.0,162.2 -2.8,157.3 -1.4,153.2 1.4,153.2 2.8,157.3" stroke="none"/></g><g opacity="0.92"><line x1="0.0" y1="87.5" x2="0.0" y2="103.7" stroke-width="2.9" stroke-opacity="0.8"/><polygon points="0.0,110.9 -2.8,106.0 -1.4,101.9 1.4,101.9 2.8,106.0" stroke="none"/></g><g opacity="0.62"><line x1="0.0" y1="43.7" x2="0.0" y2="51.4" stroke-width="1.8" stroke-opacity="0.8"/><polygon points="0.0,56.2 -2.3,52.9 -1.1,50.2 1.1,50.2 2.3,52.9" stroke="none"/></g><g opacity="0.62"><line x1="0.0" y1="-43.7" x2="0.0" y2="-51.4" stroke-width="1.8" stroke-opacity="0.8"/><polygon points="0.0,-56.2 2.3,-52.9 1.1,-50.2 -1.1,-50.2 -2.3,-52.9" stroke="none"/></g><g opacity="0.92"><line x1="0.0" y1="-87.5" x2="0.0" y2="-103.7" stroke-width="2.9" stroke-opacity="0.8"/><polygon points="0.0,-110.9 2.8,-106.0 1.4,-101.9 -1.4,-101.9 -2.8,-106.0" stroke="none"/></g><g opacity="0.92"><line x1="0.0" y1="-131.2" x2="0.0" y2="-155.0" stroke-width="2.9" stroke-opacity="0.8"/><polygon points="0.0,-162.2 2.8,-157.3 1.4,-153.2 -1.4,-153.2 -2.8,-157.3" stroke="none"/></g><g opacity="0.92"><line x1="0.0" y1="-175.0" x2="0.0" y2="-200.3" stroke-width="2.9" stroke-opacity="0.8"/><polygon points="0.0,-207.5 2.8,-202.5 1.4,-198.5 -1.4,-198.5 -2.8,-202.5" stroke="none"/></g><g opacity="0.92"><line x1="0.0" y1="-218.7" x2="0.0" y2="-243.0" stroke-width="2.9" stroke-opacity="0.8"/><polygon points="0.0,-250.2 2.8,-245.3 1.4,-241.2 -1.4,-241.2 -2.8,-245.3" stroke="none"/></g><g opacity="0.92"><line x1="0.0" y1="-262.4" x2="0.0" y2="-280.1" stroke-width="2.9" stroke-opacity="0.8"/><polygon points="0.0,-287.3 2.8,-282.4 1.4,-278.3 -1.4,-278.3 -2.8,-282.4" stroke="none"/></g><g opacity="0.50"><line x1="0.0" y1="-306.2" x2="0.0" y2="-312.7" stroke-width="1.8" stroke-opacity="0.8"/><polygon points="0.0,-317.1 2.1,-314.1 1.1,-311.6 -1.1,-311.6 -2.1,-314.1" stroke="none"/></g><g opacity="0.50"><line x1="43.7" y1="306.2" x2="44.6" y2="312.1" stroke-width="1.8" stroke-opacity="0.8"/><polygon points="45.2,316.4 42.7,313.8 43.4,311.2 45.5,310.9 46.8,313.2" stroke="none"/></g><g opacity="0.92"><line x1="43.7" y1="262.4" x2="46.5" y2="278.7" stroke-width="2.9" stroke-opacity="0.8"/><polygon points="47.6,285.8 44.1,281.4 44.8,277.2 47.5,276.7 49.6,280.5" stroke="none"/></g><g opacity="0.92"><line x1="43.7" y1="218.7" x2="48.4" y2="241.9" stroke-width="2.9" stroke-opacity="0.8"/><polygon points="49.8,249.0 46.1,244.7 46.7,240.4 49.4,239.9 51.6,243.6" stroke="none"/></g><g opacity="0.92"><line x1="43.7" y1="175.0" x2="49.8" y2="199.4" stroke-width="2.9" stroke-opacity="0.8"/><polygon points="51.6,206.4 47.7,202.2 48.1,198.0 50.8,197.3 53.1,200.9" stroke="none"/></g><g opacity="0.92"><line x1="43.7" y1="131.2" x2="51.3" y2="154.0" stroke-width="2.9" stroke-opacity="0.8"/><polygon points="53.6,160.9 49.4,157.1 49.4,152.8 52.1,151.9 54.7,155.3" stroke="none"/></g><g opacity="0.92"><line x1="43.7" y1="87.5" x2="51.5" y2="103.0" stroke-width="2.9" stroke-opacity="0.8"/><polygon points="54.7,109.5 50.0,106.3 49.5,102.0 52.0,100.8 55.0,103.8" stroke="none"/></g><g opacity="0.92"><line x1="43.7" y1="43.7" x2="51.4" y2="51.4" stroke-width="2.4" stroke-opacity="0.8"/><polygon points="55.5,55.5 50.8,54.5 49.5,51.3 51.3,49.5 54.5,50.8" stroke="none"/></g><g opacity="0.62"><line x1="43.7" y1="0.0" x2="51.4" y2="0.0" stroke-width="1.8" stroke-opacity="0.8"/><polygon points="56.2,0.0 52.9,2.3 50.2,1.1 50.2,-1.1 52.9,-2.3" stroke="none"/></g><g opacity="0.92"><line x1="43.7" y1="-43.7" x2="51.4" y2="-51.4" stroke-width="2.4" stroke-opacity="0.8"/><polygon points="55.5,-55.5 54.5,-50.8 51.3,-49.5 49.5,-51.3 50.8,-54.5" stroke="none"/></g><g opacity="0.92"><line x1="43.7" y1="-87.5" x2="51.5" y2="-103.0" stroke-width="2.9" stroke-opacity="0.8"/><polygon points="54.7,-109.5 55.0,-103.8 52.0,-100.8 49.5,-102.0 50.0,-106.3" stroke="none"/></g><g opacity="0.92"><line x1="43.7" y1="-131.2" x2="51.3" y2="-154.0" stroke-width="2.9" stroke-opacity="0.8"/><polygon points="53.6,-160.9 54.7,-155.3 52.1,-151.9 49.4,-152.8 49.4,-157.1" stroke="none"/></g><g opacity="0.92"><line x1="43.7" y1="-175.0" x2="49.8" y2="-199.4" stroke-width="2.9" stroke-opacity="0.8"/><polygon points="51.6,-206.4 53.1,-200.9 50.8,-197.3 48.1,-198.0 47.7,-202.2" stroke="none"/></g><g opacity="0.92"><line x1="43.7" y1="-218.7" x2="48.4" y2="-241.9" stroke-width="2.9" stroke-opacity="0.8"/><polygon points="49.8,-249.0 51.6,-243.6 49.4,-239.9 46.7,-240.4 46.1,-244.7" stroke="none"/></g><g opacity="0.92"><line x1="43.7" y1="-262.4" x2="46.5" y2="-278.7" stroke-width="2.9" stroke-opacity="0.8"/><polygon points="47.6,-285.8 49.6,-280.5 47.5,-276.7 44.8,-277.2 44.1,-281.4" stroke="none"/></g><g opacity="0.50"><line x1="43.7" y1="-306.2" x2="44.6" y2="-312.1" stroke-width="1.8" stroke-opacity="0.8"/><polygon points="45.2,-316.4 46.8,-313.2 45.5,-310.9 43.4,-311.2 42.7,-313.8" stroke="none"/></g><g opacity="0.50"><line x1="87.5" y1="306.2" x2="88.7" y2="310.5" stroke-width="1.8" stroke-opacity="0.8"/><polygon points="89.8,314.3 87.2,312.2 87.5,309.9 89.4,309.3 90.9,311.2" stroke="none"/></g><g opacity="0.92"><line x1="87.5" y1="262.4" x2="91.8" y2="275.5" stroke-width="2.9" stroke-opacity="0.8"/><polygon points="93.9,281.7 89.8,278.3 90.0,274.4 92.6,273.5 95.1,276.6" stroke="none"/></g><g opacity="0.92"><line x1="87.5" y1="218.7" x2="95.6" y2="238.9" stroke-width="2.9" stroke-opacity="0.8"/><polygon points="98.2,245.6 93.8,242.1 93.6,237.8 96.2,236.7 99.0,240.0" stroke="none"/></g><g opacity="0.92"><line x1="87.5" y1="175.0" x2="98.6" y2="197.2" stroke-width="2.9" stroke-opacity="0.8"/><polygon points="101.8,203.6 97.1,200.4 96.5,196.2 99.0,194.9 102.1,197.9" stroke="none"/></g><g opacity="0.92"><line x1="87.5" y1="131.2" x2="101.2" y2="151.8" stroke-width="2.9" stroke-opacity="0.8"/><polygon points="105.2,157.8 100.1,155.2 99.0,151.1 101.4,149.5 104.8,152.1" stroke="none"/></g><g opacity="0.92"><line x1="87.5" y1="87.5" x2="102.9" y2="102.9" stroke-width="2.9" stroke-opacity="0.8"/><polygon points="108.0,108.0 102.5,106.4 100.6,102.6 102.6,100.6 106.4,102.5" stroke="none"/></g><g opacity="0.92"><line x1="87.5" y1="43.7" x2="103.0" y2="51.5" stroke-width="2.9" stroke-opacity="0.8"/><polygon points="109.5,54.7 103.8,55.0 100.8,52.0 102.0,49.5 106.3,50.0" stroke="none"/></g><g opacity="0.92"><line x1="87.5" y1="0.0" x2="103.7" y2="0.0" stroke-width="2.9" stroke-opacity="0.8"/><polygon points="110.9,0.0 106.0,2.8 101.9,1.4 101.9,-1.4 106.0,-2.8" stroke="none"/></g><g opacity="0.92"><line x1="87.5" y1="-43.7" x2="103.0" y2="-51.5" stroke-width="2.9" stroke-opacity="0.8"/><polygon points="109.5,-54.7 106.3,-50.0 102.0,-49.5 100.8,-52.0 103.8,-55.0" stroke="none"/></g><g opacity="0.92"><line x1="87.5" y1="-87.5" x2="102.9" y2="-102.9" stroke-width="2.9" stroke-opacity="0.8"/><polygon points="108.0,-108.0 106.4,-102.5 102.6,-100.6 100.6,-102.6 102.5,-106.4" stroke="none"/></g><g opacity="0.92"><line x1="87.5" y1="-131.2" x2="101.2" y2="-151.8" stroke-width="2.9" stroke-opacity="0.8"/><polygon points="105.2,-157.8 104.8,-152.1 101.4,-149.5 99.0,-151.1 100.1,-155.2" stroke="none"/></g><g opacity="0.92"><line x1="87.5" y1="-175.0" x2="98.6" y2="-197.2" stroke-width="2.9" stroke-opacity="0.8"/><polygon points="101.8,-203.6 102.1,-197.9 99.0,-194.9 96.5,-196.2 97.1,-200.4" stroke="none"/></g><g opacity="0.92"><line x1="87.5" y1="-218.7" x2="95.6" y2="-238.9" stroke-width="2.9" stroke-opacity="0.8"/><polygon points="98.2,-245.6 99.0,-240.0 96.2,-236.7 93.6,-237.8 93.8,-242.1" stroke="none"/></g><g opacity="0.92"><line x1="87.5" y1="-262.4" x2="91.8" y2="-275.5" stroke-width="2.9" stroke-opacity="0.8"/><polygon points="93.9,-281.7 95.1,-276.6 92.6,-273.5 90.0,-274.4 89.8,-278.3" stroke="none"/></g><g opacity="0.50"><line x1="87.5" y1="-306.2" x2="88.7" y2="-310.5" stroke-width="1.8" stroke-opacity="0.8"/><polygon points="89.8,-314.3 90.9,-311.2 89.4,-309.3 87.5,-309.9 87.2,-312.2" stroke="none"/></g><g opacity="0.92"><line x1="131.2" y1="262.4" x2="135.5" y2="271.1" stroke-width="2.4" stroke-opacity="0.8"/><polygon points="137.9,275.9 134.1,273.7 133.8,270.4 136.0,269.3 138.5,271.5" stroke="none"/></g><g opacity="0.92"><line x1="131.2" y1="218.7" x2="140.9" y2="234.9" stroke-width="2.9" stroke-opacity="0.8"/><polygon points="144.6,241.0 139.7,238.2 138.8,234.0 141.2,232.6 144.5,235.4" stroke="none"/></g><g opacity="0.92"><line x1="131.2" y1="175.0" x2="145.8" y2="194.4" stroke-width="2.9" stroke-opacity="0.8"/><polygon points="150.1,200.2 144.9,197.9 143.6,193.8 145.8,192.1 149.4,194.5" stroke="none"/></g><g opacity="0.92"><line x1="131.2" y1="131.2" x2="148.9" y2="148.9" stroke-width="2.9" stroke-opacity="0.8"/><polygon points="154.0,154.0 148.6,152.5 146.7,148.7 148.7,146.7 152.5,148.6" stroke="none"/></g><g opacity="0.92"><line x1="131.2" y1="87.5" x2="151.8" y2="101.2" stroke-width="2.9" stroke-opacity="0.8"/><polygon points="157.8,105.2 152.1,104.8 149.5,101.4 151.1,99.0 155.2,100.1" stroke="none"/></g><g opacity="0.92"><line x1="131.2" y1="43.7" x2="154.0" y2="51.3" stroke-width="2.9" stroke-opacity="0.8"/><polygon points="160.9,53.6 155.3,54.7 151.9,52.1 152.8,49.4 157.1,49.4" stroke="none"/></g><g opacity="0.92"><line x1="131.2" y1="0.0" x2="155.0" y2="0.0" stroke-width="2.9" stroke-opacity="0.8"/><polygon points="162.2,0.0 157.3,2.8 153.2,1.4 153.2,-1.4 157.3,-2.8" stroke="none"/></g><g opacity="0.92"><line x1="131.2" y1="-43.7" x2="154.0" y2="-51.3" stroke-width="2.9" stroke-opacity="0.8"/><polygon points="160.9,-53.6 157.1,-49.4 152.8,-49.4 151.9,-52.1 155.3,-54.7" stroke="none"/></g><g opacity="0.92"><line x1="131.2" y1="-87.5" x2="151.8" y2="-101.2" stroke-width="2.9" stroke-opacity="0.8"/><polygon points="157.8,-105.2 155.2,-100.1 151.1,-99.0 149.5,-101.4 152.1,-104.8" stroke="none"/></g><g opacity="0.92"><line x1="131.2" y1="-131.2" x2="148.9" y2="-148.9" stroke-width="2.9" stroke-opacity="0.8"/><polygon points="154.0,-154.0 152.5,-148.6 148.7,-146.7 146.7,-148.7 148.6,-152.5" stroke="none"/></g><g opacity="0.92"><line x1="131.2" y1="-175.0" x2="145.8" y2="-194.4" stroke-width="2.9" stroke-opacity="0.8"/><polygon points="150.1,-200.2 149.4,-194.5 145.8,-192.1 143.6,-193.8 144.9,-197.9" stroke="none"/></g><g opacity="0.92"><line x1="131.2" y1="-218.7" x2="140.9" y2="-234.9" stroke-width="2.9" stroke-opacity="0.8"/><polygon points="144.6,-241.0 144.5,-235.4 141.2,-232.6 138.8,-234.0 139.7,-238.2" stroke="none"/></g><g opacity="0.92"><line x1="131.2" y1="-262.4" x2="135.5" y2="-271.1" stroke-width="2.4" stroke-opacity="0.8"/><polygon points="137.9,-275.9 138.5,-271.5 136.0,-269.3 133.8,-270.4 134.1,-273.7" stroke="none"/></g><g opacity="0.50"><line x1="175.0" y1="262.4" x2="177.7" y2="266.6" stroke-width="1.8" stroke-opacity="0.8"/><polygon points="180.0,270.0 176.8,268.8 176.4,266.3 178.0,265.2 180.1,266.6" stroke="none"/></g><g opacity="0.92"><line x1="175.0" y1="218.7" x2="183.0" y2="228.8" stroke-width="2.4" stroke-opacity="0.8"/><polygon points="187.0,233.7 182.1,232.1 181.0,228.4 183.1,226.7 186.5,228.6" stroke="none"/></g><g opacity="0.92"><line x1="175.0" y1="175.0" x2="189.1" y2="189.1" stroke-width="2.9" stroke-opacity="0.8"/><polygon points="194.2,194.2 188.7,192.7 186.8,188.8 188.8,186.8 192.7,188.7" stroke="none"/></g><g opacity="0.92"><line x1="175.0" y1="131.2" x2="194.4" y2="145.8" stroke-width="2.9" stroke-opacity="0.8"/><polygon points="200.2,150.1 194.5,149.4 192.1,145.8 193.8,143.6 197.9,144.9" stroke="none"/></g><g opacity="0.92"><line x1="175.0" y1="87.5" x2="197.2" y2="98.6" stroke-width="2.9" stroke-opacity="0.8"/><polygon points="203.6,101.8 197.9,102.1 194.9,99.0 196.2,96.5 200.4,97.1" stroke="none"/></g><g opacity="0.92"><line x1="175.0" y1="43.7" x2="199.4" y2="49.8" stroke-width="2.9" stroke-opacity="0.8"/><polygon points="206.4,51.6 200.9,53.1 197.3,50.8 198.0,48.1 202.2,47.7" stroke="none"/></g><g opacity="0.92"><line x1="175.0" y1="0.0" x2="200.3" y2="0.0" stroke-width="2.9" stroke-opacity="0.8"/><polygon points="207.5,0.0 202.5,2.8 198.5,1.4 198.5,-1.4 202.5,-2.8" stroke="none"/></g><g opacity="0.92"><line x1="175.0" y1="-43.7" x2="199.4" y2="-49.8" stroke-width="2.9" stroke-opacity="0.8"/><polygon points="206.4,-51.6 202.2,-47.7 198.0,-48.1 197.3,-50.8 200.9,-53.1" stroke="none"/></g><g opacity="0.92"><line x1="175.0" y1="-87.5" x2="197.2" y2="-98.6" stroke-width="2.9" stroke-opacity="0.8"/><polygon points="203.6,-101.8 200.4,-97.1 196.2,-96.5 194.9,-99.0 197.9,-102.1" stroke="none"/></g><g opacity="0.92"><line x1="175.0" y1="-131.2" x2="194.4" y2="-145.8" stroke-width="2.9" stroke-opacity="0.8"/><polygon points="200.2,-150.1 197.9,-144.9 193.8,-143.6 192.1,-145.8 194.5,-149.4" stroke="none"/></g><g opacity="0.92"><line x1="175.0" y1="-175.0" x2="189.1" y2="-189.1" stroke-width="2.9" stroke-opacity="0.8"/><polygon points="194.2,-194.2 192.7,-188.7 188.8,-186.8 186.8,-188.8 188.7,-192.7" stroke="none"/></g><g opacity="0.92"><line x1="175.0" y1="-218.7" x2="183.0" y2="-228.8" stroke-width="2.4" stroke-opacity="0.8"/><polygon points="187.0,-233.7 186.5,-228.6 183.1,-226.7 181.0,-228.4 182.1,-232.1" stroke="none"/></g><g opacity="0.50"><line x1="175.0" y1="-262.4" x2="177.7" y2="-266.6" stroke-width="1.8" stroke-opacity="0.8"/><polygon points="180.0,-270.0 180.1,-266.6 178.0,-265.2 176.4,-266.3 176.8,-268.8" stroke="none"/></g><g opacity="0.50"><line x1="218.7" y1="218.7" x2="222.9" y2="222.9" stroke-width="1.8" stroke-opacity="0.8"/><polygon points="226.0,226.0 222.4,225.4 221.4,222.9 222.9,221.4 225.4,222.4" stroke="none"/></g><g opacity="0.92"><line x1="218.7" y1="175.0" x2="228.8" y2="183.0" stroke-width="2.4" stroke-opacity="0.8"/><polygon points="233.7,187.0 228.6,186.5 226.7,183.1 228.4,181.0 232.1,182.1" stroke="none"/></g><g opacity="0.92"><line x1="218.7" y1="131.2" x2="234.9" y2="140.9" stroke-width="2.9" stroke-opacity="0.8"/><polygon points="241.0,144.6 235.4,144.5 232.6,141.2 234.0,138.8 238.2,139.7" stroke="none"/></g><g opacity="0.92"><line x1="218.7" y1="87.5" x2="238.9" y2="95.6" stroke-width="2.9" stroke-opacity="0.8"/><polygon points="245.6,98.2 240.0,99.0 236.7,96.2 237.8,93.6 242.1,93.8" stroke="none"/></g><g opacity="0.92"><line x1="218.7" y1="43.7" x2="241.9" y2="48.4" stroke-width="2.9" stroke-opacity="0.8"/><polygon points="249.0,49.8 243.6,51.6 239.9,49.4 240.4,46.7 244.7,46.1" stroke="none"/></g><g opacity="0.92"><line x1="218.7" y1="0.0" x2="243.0" y2="0.0" stroke-width="2.9" stroke-opacity="0.8"/><polygon points="250.2,0.0 245.3,2.8 241.2,1.4 241.2,-1.4 245.3,-2.8" stroke="none"/></g><g opacity="0.92"><line x1="218.7" y1="-43.7" x2="241.9" y2="-48.4" stroke-width="2.9" stroke-opacity="0.8"/><polygon points="249.0,-49.8 244.7,-46.1 240.4,-46.7 239.9,-49.4 243.6,-51.6" stroke="none"/></g><g opacity="0.92"><line x1="218.7" y1="-87.5" x2="238.9" y2="-95.6" stroke-width="2.9" stroke-opacity="0.8"/><polygon points="245.6,-98.2 242.1,-93.8 237.8,-93.6 236.7,-96.2 240.0,-99.0" stroke="none"/></g><g opacity="0.92"><line x1="218.7" y1="-131.2" x2="234.9" y2="-140.9" stroke-width="2.9" stroke-opacity="0.8"/><polygon points="241.0,-144.6 238.2,-139.7 234.0,-138.8 232.6,-141.2 235.4,-144.5" stroke="none"/></g><g opacity="0.92"><line x1="218.7" y1="-175.0" x2="228.8" y2="-183.0" stroke-width="2.4" stroke-opacity="0.8"/><polygon points="233.7,-187.0 232.1,-182.1 228.4,-181.0 226.7,-183.1 228.6,-186.5" stroke="none"/></g><g opacity="0.50"><line x1="218.7" y1="-218.7" x2="222.9" y2="-222.9" stroke-width="1.8" stroke-opacity="0.8"/><polygon points="226.0,-226.0 225.4,-222.4 222.9,-221.4 221.4,-222.9 222.4,-225.4" stroke="none"/></g><g opacity="0.50"><line x1="262.4" y1="175.0" x2="266.6" y2="177.7" stroke-width="1.8" stroke-opacity="0.8"/><polygon points="270.0,180.0 266.6,180.1 265.2,178.0 266.3,176.4 268.8,176.8" stroke="none"/></g><g opacity="0.92"><line x1="262.4" y1="131.2" x2="271.1" y2="135.5" stroke-width="2.4" stroke-opacity="0.8"/><polygon points="275.9,137.9 271.5,138.5 269.3,136.0 270.4,133.8 273.7,134.1" stroke="none"/></g><g opacity="0.92"><line x1="262.4" y1="87.5" x2="275.5" y2="91.8" stroke-width="2.9" stroke-opacity="0.8"/><polygon points="281.7,93.9 276.6,95.1 273.5,92.6 274.4,90.0 278.3,89.8" stroke="none"/></g><g opacity="0.92"><line x1="262.4" y1="43.7" x2="278.7" y2="46.5" stroke-width="2.9" stroke-opacity="0.8"/><polygon points="285.8,47.6 280.5,49.6 276.7,47.5 277.2,44.8 281.4,44.1" stroke="none"/></g><g opacity="0.92"><line x1="262.4" y1="0.0" x2="280.1" y2="0.0" stroke-width="2.9" stroke-opacity="0.8"/><polygon points="287.3,0.0 282.4,2.8 278.3,1.4 278.3,-1.4 282.4,-2.8" stroke="none"/></g><g opacity="0.92"><line x1="262.4" y1="-43.7" x2="278.7" y2="-46.5" stroke-width="2.9" stroke-opacity="0.8"/><polygon points="285.8,-47.6 281.4,-44.1 277.2,-44.8 276.7,-47.5 280.5,-49.6" stroke="none"/></g><g opacity="0.92"><line x1="262.4" y1="-87.5" x2="275.5" y2="-91.8" stroke-width="2.9" stroke-opacity="0.8"/><polygon points="281.7,-93.9 278.3,-89.8 274.4,-90.0 273.5,-92.6 276.6,-95.1" stroke="none"/></g><g opacity="0.92"><line x1="262.4" y1="-131.2" x2="271.1" y2="-135.5" stroke-width="2.4" stroke-opacity="0.8"/><polygon points="275.9,-137.9 273.7,-134.1 270.4,-133.8 269.3,-136.0 271.5,-138.5" stroke="none"/></g><g opacity="0.50"><line x1="262.4" y1="-175.0" x2="266.6" y2="-177.7" stroke-width="1.8" stroke-opacity="0.8"/><polygon points="270.0,-180.0 268.8,-176.8 266.3,-176.4 265.2,-178.0 266.6,-180.1" stroke="none"/></g><g opacity="0.50"><line x1="306.2" y1="87.5" x2="310.5" y2="88.7" stroke-width="1.8" stroke-opacity="0.8"/><polygon points="314.3,89.8 311.2,90.9 309.3,89.4 309.9,87.5 312.2,87.2" stroke="none"/></g><g opacity="0.50"><line x1="306.2" y1="43.7" x2="312.1" y2="44.6" stroke-width="1.8" stroke-opacity="0.8"/><polygon points="316.4,45.2 313.2,46.8 310.9,45.5 311.2,43.4 313.8,42.7" stroke="none"/></g><g opacity="0.50"><line x1="306.2" y1="0.0" x2="312.7" y2="0.0" stroke-width="1.8" stroke-opacity="0.8"/><polygon points="317.1,0.0 314.1,2.1 311.6,1.1 311.6,-1.1 314.1,-2.1" stroke="none"/></g><g opacity="0.50"><line x1="306.2" y1="-43.7" x2="312.1" y2="-44.6" stroke-width="1.8" stroke-opacity="0.8"/><polygon points="316.4,-45.2 313.8,-42.7 311.2,-43.4 310.9,-45.5 313.2,-46.8" stroke="none"/></g><g opacity="0.50"><line x1="306.2" y1="-87.5" x2="310.5" y2="-88.7" stroke-width="1.8" stroke-opacity="0.8"/><polygon points="314.3,-89.8 312.2,-87.2 309.9,-87.5 309.3,-89.4 311.2,-90.9" stroke="none"/></g></g>
</g>
<rect x="88.0" y="102.2" width="826.8" height="720.6" fill="none" stroke="#a0a0a0" stroke-width="2"/>
<path d="M173.9 822.8v-5M173.9 102.2v5M283.3 822.8v-5M283.3 102.2v5M392.6 822.8v-5M392.6 102.2v5M502.0 822.8v-5M502.0 102.2v5M611.4 822.8v-5M611.4 102.2v5M720.7 822.8v-5M720.7 102.2v5M830.1 822.8v-5M830.1 102.2v5M88.0 811.8h5M914.8 811.8h-5M88.0 768.2h5M914.8 768.2h-5M88.0 724.5h5M914.8 724.5h-5M88.0 680.9h5M914.8 680.9h-5M88.0 637.2h5M914.8 637.2h-5M88.0 593.5h5M914.8 593.5h-5M88.0 549.9h5M914.8 549.9h-5M88.0 506.2h5M914.8 506.2h-5M88.0 462.6h5M914.8 462.6h-5M88.0 419.0h5M914.8 419.0h-5M88.0 375.3h5M914.8 375.3h-5M88.0 331.7h5M914.8 331.7h-5M88.0 288.0h5M914.8 288.0h-5M88.0 244.4h5M914.8 244.4h-5M88.0 200.7h5M914.8 200.7h-5M88.0 157.1h5M914.8 157.1h-5M88.0 113.4h5M914.8 113.4h-5" stroke="#999" stroke-width="1.5" fill="none"/>
<text x="85.2" y="819.7" text-anchor="end">-0.16</text>
<text x="85.2" y="776.1" text-anchor="end">-0.14</text>
<text x="85.2" y="732.4" text-anchor="end">-0.12</text>
<text x="85.2" y="688.8" text-anchor="end">-0.1</text>
<text x="85.2" y="645.1" text-anchor="end">-0.08</text>
<text x="85.2" y="601.4" text-anchor="end">-0.06</text>
<text x="85.2" y="557.8" text-anchor="end">-0.04</text>
<text x="85.2" y="514.1" text-anchor="end">-0.02</text>
<text x="85.2" y="470.5" text-anchor="end">0</text>
<text x="85.2" y="426.9" text-anchor="end">0.02</text>
<text x="85.2" y="383.2" text-anchor="end">0.04</text>
<text x="85.2" y="339.6" text-anchor="end">0.06</text>
<text x="85.2" y="295.9" text-anchor="end">0.08</text>
<text x="85.2" y="252.3" text-anchor="end">0.1</text>
<text x="85.2" y="208.6" text-anchor="end">0.12</text>
<text x="85.2" y="165.0" text-anchor="end">0.14</text>
<text x="174.4" y="847.8" text-anchor="middle">-0.15</text>
<text x="283.8" y="847.8" text-anchor="middle">-0.1</text>
<text x="393.1" y="847.8" text-anchor="middle">-0.05</text>
<text x="502.5" y="847.8" text-anchor="middle">0</text>
<text x="611.9" y="847.8" text-anchor="middle">0.05</text>
<text x="721.2" y="847.8" text-anchor="middle">0.1</text>
<text x="830.6" y="847.8" text-anchor="middle">0.15</text>
<text x="13.5" y="111.7">m</text>
<text x="898.5" y="847.8">m</text>
<rect x="931.5" y="144.5" width="12.5" height="669.5" fill="url(#ca)"/>
<text x="951" y="686.9">0.5</text>
<text x="951" y="545.1">1</text>
<text x="951" y="403.3">1.5</text>
<text x="951" y="261.5">2</text>
<path d="M931.5 679.3h3M944 679.3h-3M931.5 537.5h3M944 537.5h-3M931.5 395.7h3M944 395.7h-3M931.5 253.9h3M944 253.9h-3" stroke="#000" stroke-opacity="0.45" stroke-width="1.3" fill="none"/>
<text x="945.5" y="130.5">×10<tspan font-size="14" dy="-10">3</tspan></text>
<defs><radialGradient id="gb" gradientUnits="userSpaceOnUse" cx="0" cy="0" r="328.5"><stop offset="0.0000" stop-color="#191482"/><stop offset="0.0061" stop-color="#1c1996"/><stop offset="0.0122" stop-color="#201ea9"/><stop offset="0.0183" stop-color="#2322bc"/><stop offset="0.0244" stop-color="#2527c9"/><stop offset="0.0304" stop-color="#282bd5"/><stop offset="0.0365" stop-color="#2b2fe1"/><stop offset="0.0426" stop-color="#2d34eb"/><stop offset="0.0487" stop-color="#2c3ded"/><stop offset="0.0548" stop-color="#2b46f0"/><stop offset="0.0609" stop-color="#2a50f2"/><stop offset="0.0670" stop-color="#285cf4"/><stop offset="0.0731" stop-color="#2870f5"/><stop offset="0.0791" stop-color="#2884f5"/><stop offset="0.0852" stop-color="#2897f5"/><stop offset="0.0913" stop-color="#28a8f5"/><stop offset="0.0974" stop-color="#28b9f5"/><stop offset="0.1035" stop-color="#28c9f5"/><stop offset="0.1096" stop-color="#28d5f5"/><stop offset="0.1157" stop-color="#2bddf2"/><stop offset="0.1218" stop-color="#2ee2ef"/><stop offset="0.1279" stop-color="#30e7ed"/><stop offset="0.1339" stop-color="#34ebe9"/><stop offset="0.1400" stop-color="#3deedc"/><stop offset="0.1461" stop-color="#46f0d0"/><stop offset="0.1522" stop-color="#4ff2c4"/><stop offset="0.1583" stop-color="#58f4b7"/><stop offset="0.1644" stop-color="#64f6a8"/><stop offset="0.1705" stop-color="#74f796"/><stop offset="0.1766" stop-color="#83f884"/><stop offset="0.1826" stop-color="#92fa72"/><stop offset="0.1887" stop-color="#9ef962"/><stop offset="0.1948" stop-color="#aaf852"/><stop offset="0.2009" stop-color="#b6f741"/><stop offset="0.2070" stop-color="#c2f630"/><stop offset="0.2131" stop-color="#ccf424"/><stop offset="0.2192" stop-color="#d4f11c"/><stop offset="0.2253" stop-color="#dcee14"/><stop offset="0.2314" stop-color="#e4eb0c"/><stop offset="0.2374" stop-color="#ebe805"/><stop offset="0.2435" stop-color="#f1e200"/><stop offset="0.2496" stop-color="#f2da00"/><stop offset="0.2557" stop-color="#f4d100"/><stop offset="0.2618" stop-color="#f6c800"/><stop offset="0.2679" stop-color="#f8bf00"/><stop offset="0.2740" stop-color="#fab500"/><stop offset="0.2801" stop-color="#faa700"/><stop offset="0.2861" stop-color="#fa9900"/><stop offset="0.2922" stop-color="#fa8c00"/><stop offset="0.2983" stop-color="#fa8000"/><stop offset="0.3044" stop-color="#f97300"/><stop offset="0.3105" stop-color="#f86700"/><stop offset="0.3166" stop-color="#f65b00"/><stop offset="0.3227" stop-color="#f44f00"/><stop offset="0.3288" stop-color="#f34400"/><stop offset="0.3349" stop-color="#f13800"/><stop offset="0.3409" stop-color="#ee2f00"/><stop offset="0.3470" stop-color="#ea2900"/><stop offset="0.3531" stop-color="#e72300"/><stop offset="0.3592" stop-color="#e31d00"/><stop offset="0.3653" stop-color="#e01800"/><stop offset="0.3714" stop-color="#dd1300"/><stop offset="0.3775" stop-color="#da0e00"/><stop offset="0.3836" stop-color="#d70a00"/><stop offset="0.3896" stop-color="#d10900"/><stop offset="0.3957" stop-color="#cb0800"/><stop offset="0.4018" stop-color="#c70700"/><stop offset="0.4079" stop-color="#c40600"/><stop offset="0.4140" stop-color="#c10600"/><stop offset="0.4201" stop-color="#be0500"/><stop offset="0.4262" stop-color="#bb0400"/><stop offset="0.4323" stop-color="#b80400"/><stop offset="0.4384" stop-color="#b50300"/><stop offset="0.4444" stop-color="#b30300"/><stop offset="0.4505" stop-color="#b00200"/><stop offset="0.4566" stop-color="#ad0200"/><stop offset="0.4627" stop-color="#ab0100"/><stop offset="0.4688" stop-color="#a80100"/><stop offset="0.4749" stop-color="#a50000"/><stop offset="0.4810" stop-color="#a30000"/><stop offset="0.4871" stop-color="#a00000"/><stop offset="0.4932" stop-color="#a00000"/><stop offset="0.4992" stop-color="#9e0000"/><stop offset="0.5053" stop-color="#9e0000"/><stop offset="0.5114" stop-color="#9c0000"/><stop offset="0.5175" stop-color="#9c0000"/><stop offset="0.5236" stop-color="#9a0000"/><stop offset="0.5297" stop-color="#9a0000"/><stop offset="0.5358" stop-color="#980000"/><stop offset="0.5419" stop-color="#980000"/><stop offset="0.5479" stop-color="#990000"/><stop offset="0.5540" stop-color="#9a0000"/><stop offset="0.5601" stop-color="#9b0000"/><stop offset="0.5662" stop-color="#9c0000"/><stop offset="0.5723" stop-color="#9d0000"/><stop offset="0.5784" stop-color="#9e0000"/><stop offset="0.5845" stop-color="#9f0000"/><stop offset="0.5906" stop-color="#a00000"/><stop offset="0.5967" stop-color="#a20000"/><stop offset="0.6027" stop-color="#a40000"/><stop offset="0.6088" stop-color="#a70000"/><stop offset="0.6149" stop-color="#a90100"/><stop offset="0.6210" stop-color="#ac0100"/><stop offset="0.6271" stop-color="#af0200"/><stop offset="0.6332" stop-color="#b10200"/><stop offset="0.6393" stop-color="#b40300"/><stop offset="0.6454" stop-color="#b70400"/><stop offset="0.6514" stop-color="#ba0400"/><stop offset="0.6575" stop-color="#bc0500"/><stop offset="0.6636" stop-color="#bf0500"/><stop offset="0.6697" stop-color="#c20600"/><stop offset="0.6758" stop-color="#c50600"/><stop offset="0.6819" stop-color="#c70700"/><stop offset="0.6880" stop-color="#ca0700"/><stop offset="0.6941" stop-color="#cd0800"/><stop offset="0.7002" stop-color="#d30900"/><stop offset="0.7062" stop-color="#d80b00"/><stop offset="0.7123" stop-color="#db1000"/><stop offset="0.7184" stop-color="#de1500"/><stop offset="0.7245" stop-color="#e11a00"/><stop offset="0.7306" stop-color="#e41e00"/><stop offset="0.7367" stop-color="#e72300"/><stop offset="0.7428" stop-color="#ea2800"/><stop offset="0.7489" stop-color="#ee2f00"/><stop offset="0.7549" stop-color="#f13a00"/><stop offset="0.7610" stop-color="#f34700"/><stop offset="0.7671" stop-color="#f55300"/><stop offset="0.7732" stop-color="#f65f00"/><stop offset="0.7793" stop-color="#f86c00"/><stop offset="0.7854" stop-color="#fa7800"/><stop offset="0.7915" stop-color="#fa8600"/><stop offset="0.7976" stop-color="#fa9500"/><stop offset="0.8037" stop-color="#faa300"/><stop offset="0.8097" stop-color="#fab400"/><stop offset="0.8158" stop-color="#f7c200"/><stop offset="0.8219" stop-color="#f4d100"/><stop offset="0.8280" stop-color="#f1df00"/><stop offset="0.8341" stop-color="#ece804"/><stop offset="0.8402" stop-color="#e4ea0c"/><stop offset="0.8463" stop-color="#dcee14"/><stop offset="0.8524" stop-color="#d4f01c"/><stop offset="0.8584" stop-color="#ccf424"/><stop offset="0.8645" stop-color="#c2f630"/><stop offset="0.8706" stop-color="#b7f73f"/><stop offset="0.8767" stop-color="#acf84f"/><stop offset="0.8828" stop-color="#a1f95e"/><stop offset="0.8889" stop-color="#96fa6e"/><stop offset="0.8950" stop-color="#85f982"/><stop offset="0.9011" stop-color="#74f796"/><stop offset="0.9072" stop-color="#63f6aa"/><stop offset="0.9132" stop-color="#55f4bb"/><stop offset="0.9193" stop-color="#4af1c9"/><stop offset="0.9254" stop-color="#40eed8"/><stop offset="0.9315" stop-color="#34ebe9"/><stop offset="0.9376" stop-color="#2bdef2"/><stop offset="0.9437" stop-color="#28caf5"/><stop offset="0.9498" stop-color="#28b3f5"/><stop offset="0.9559" stop-color="#289ef5"/><stop offset="0.9619" stop-color="#288af5"/><stop offset="0.9680" stop-color="#2873f5"/><stop offset="0.9741" stop-color="#285df5"/><stop offset="0.9802" stop-color="#2a4ef1"/><stop offset="0.9863" stop-color="#2b45ef"/><stop offset="0.9924" stop-color="#2c3bed"/><stop offset="0.9985" stop-color="#2d32eb"/></radialGradient>
<linearGradient id="cb" x1="0" y1="0" x2="0" y2="1"><stop offset="0.00" stop-color="#780000"/><stop offset="0.01" stop-color="#810000"/><stop offset="0.02" stop-color="#8a0000"/><stop offset="0.03" stop-color="#930000"/><stop offset="0.04" stop-color="#9c0000"/><stop offset="0.05" stop-color="#a50000"/><stop offset="0.06" stop-color="#af0200"/><stop offset="0.07" stop-color="#b90400"/><stop offset="0.08" stop-color="#c30600"/><stop offset="0.09" stop-color="#cd0800"/><stop offset="0.10" stop-color="#d70a00"/><stop offset="0.11" stop-color="#dc1200"/><stop offset="0.12" stop-color="#e11a00"/><stop offset="0.13" stop-color="#e62200"/><stop offset="0.14" stop-color="#eb2a00"/><stop offset="0.15" stop-color="#f03200"/><stop offset="0.16" stop-color="#f13c00"/><stop offset="0.17" stop-color="#f34600"/><stop offset="0.18" stop-color="#f45000"/><stop offset="0.19" stop-color="#f65a00"/><stop offset="0.20" stop-color="#f76400"/><stop offset="0.21" stop-color="#f96e00"/><stop offset="0.22" stop-color="#fa7800"/><stop offset="0.23" stop-color="#fa8200"/><stop offset="0.24" stop-color="#fa8c00"/><stop offset="0.25" stop-color="#fa9600"/><stop offset="0.26" stop-color="#faa000"/><stop offset="0.27" stop-color="#faaa00"/><stop offset="0.28" stop-color="#fab400"/><stop offset="0.29" stop-color="#f9bb00"/><stop offset="0.30" stop-color="#f7c200"/><stop offset="0.31" stop-color="#f6c900"/><stop offset="0.32" stop-color="#f4d100"/><stop offset="0.33" stop-color="#f3d800"/><stop offset="0.34" stop-color="#f1df00"/><stop offset="0.35" stop-color="#f0e600"/><stop offset="0.36" stop-color="#eae806"/><stop offset="0.37" stop-color="#e5ea0b"/><stop offset="0.38" stop-color="#dfec11"/><stop offset="0.39" stop-color="#d9ef17"/><stop offset="0.40" stop-color="#d3f11d"/><stop offset="0.41" stop-color="#cef322"/><stop offset="0.42" stop-color="#c8f528"/><stop offset="0.43" stop-color="#c0f634"/><stop offset="0.44" stop-color="#b7f73f"/><stop offset="0.45" stop-color="#aff84b"/><stop offset="0.46" stop-color="#a7f857"/><stop offset="0.47" stop-color="#9ef962"/><stop offset="0.48" stop-color="#96fa6e"/><stop offset="0.49" stop-color="#8df978"/><stop offset="0.50" stop-color="#85f982"/><stop offset="0.51" stop-color="#7cf88c"/><stop offset="0.52" stop-color="#74f796"/><stop offset="0.53" stop-color="#6bf6a0"/><stop offset="0.54" stop-color="#63f6aa"/><stop offset="0.55" stop-color="#5af5b4"/><stop offset="0.56" stop-color="#54f4bc"/><stop offset="0.57" stop-color="#4ff2c4"/><stop offset="0.58" stop-color="#49f1cc"/><stop offset="0.59" stop-color="#43efd3"/><stop offset="0.60" stop-color="#3deedb"/><stop offset="0.61" stop-color="#38ece3"/><stop offset="0.62" stop-color="#32ebeb"/><stop offset="0.63" stop-color="#30e6ee"/><stop offset="0.64" stop-color="#2de1f0"/><stop offset="0.65" stop-color="#2adcf2"/><stop offset="0.66" stop-color="#28d7f5"/><stop offset="0.67" stop-color="#28cef5"/><stop offset="0.68" stop-color="#28c6f5"/><stop offset="0.69" stop-color="#28bdf5"/><stop offset="0.70" stop-color="#28b5f5"/><stop offset="0.71" stop-color="#28acf5"/><stop offset="0.72" stop-color="#28a4f5"/><stop offset="0.73" stop-color="#289bf5"/><stop offset="0.74" stop-color="#2892f5"/><stop offset="0.75" stop-color="#288af5"/><stop offset="0.76" stop-color="#2881f5"/><stop offset="0.77" stop-color="#2879f5"/><stop offset="0.78" stop-color="#2870f5"/><stop offset="0.79" stop-color="#2868f5"/><stop offset="0.80" stop-color="#285ff5"/><stop offset="0.81" stop-color="#2959f4"/><stop offset="0.82" stop-color="#2954f2"/><stop offset="0.83" stop-color="#2a4ef1"/><stop offset="0.84" stop-color="#2a48f0"/><stop offset="0.85" stop-color="#2b43ef"/><stop offset="0.86" stop-color="#2c3dee"/><stop offset="0.87" stop-color="#2c38ec"/><stop offset="0.88" stop-color="#2d32eb"/><stop offset="0.89" stop-color="#2b30e4"/><stop offset="0.90" stop-color="#2a2ddc"/><stop offset="0.91" stop-color="#282ad4"/><stop offset="0.92" stop-color="#2628cd"/><stop offset="0.93" stop-color="#2526c6"/><stop offset="0.94" stop-color="#2323be"/><stop offset="0.95" stop-color="#2120b4"/><stop offset="0.96" stop-color="#201eaa"/><stop offset="0.97" stop-color="#1e1ca0"/><stop offset="0.98" stop-color="#1c1996"/><stop offset="0.99" stop-color="#1b168c"/><stop offset="1.00" stop-color="#191482"/></linearGradient></defs>
<g transform="translate(501.90,1289.80) scale(1,0.9640)">
<circle cx="0" cy="0" r="328.5" fill="url(#gb)"/>
<circle cx="0" cy="0" r="327.7" fill="none" stroke="#1c1878" stroke-width="1.6" stroke-opacity="0.8"/>
<g stroke="#0a0202" fill="#0a0202" filter="url(#bl)"><g opacity="0.50"><line x1="-306.2" y1="87.5" x2="-310.5" y2="88.7" stroke-width="1.8" stroke-opacity="0.8"/><polygon points="-314.3,89.8 -312.2,87.2 -309.9,87.5 -309.3,89.4 -311.2,90.9" stroke="none"/></g><g opacity="0.50"><line x1="-306.2" y1="43.7" x2="-312.1" y2="44.6" stroke-width="1.8" stroke-opacity="0.8"/><polygon points="-316.4,45.2 -313.8,42.7 -311.2,43.4 -310.9,45.5 -313.2,46.8" stroke="none"/></g><g opacity="0.50"><line x1="-306.2" y1="0.0" x2="-312.7" y2="0.0" stroke-width="1.8" stroke-opacity="0.8"/><polygon points="-317.1,0.0 -314.1,-2.1 -311.6,-1.1 -311.6,1.1 -314.1,2.1" stroke="none"/></g><g opacity="0.50"><line x1="-306.2" y1="-43.7" x2="-312.1" y2="-44.6" stroke-width="1.8" stroke-opacity="0.8"/><polygon points="-316.4,-45.2 -313.2,-46.8 -310.9,-45.5 -311.2,-43.4 -313.8,-42.7" stroke="none"/></g><g opacity="0.50"><line x1="-306.2" y1="-87.5" x2="-310.5" y2="-88.7" stroke-width="1.8" stroke-opacity="0.8"/><polygon points="-314.3,-89.8 -311.2,-90.9 -309.3,-89.4 -309.9,-87.5 -312.2,-87.2" stroke="none"/></g><g opacity="0.50"><line x1="-262.4" y1="175.0" x2="-266.6" y2="177.7" stroke-width="1.8" stroke-opacity="0.8"/><polygon points="-270.0,180.0 -268.8,176.8 -266.3,176.4 -265.2,178.0 -266.6,180.1" stroke="none"/></g><g opacity="0.92"><line x1="-262.4" y1="131.2" x2="-271.1" y2="135.5" stroke-width="2.4" stroke-opacity="0.8"/><polygon points="-275.9,137.9 -273.7,134.1 -270.4,133.8 -269.3,136.0 -271.5,138.5" stroke="none"/></g><g opacity="0.92"><line x1="-262.4" y1="87.5" x2="-275.5" y2="91.8" stroke-width="2.9" stroke-opacity="0.8"/><polygon points="-281.7,93.9 -278.3,89.8 -274.4,90.0 -273.5,92.6 -276.6,95.1" stroke="none"/></g><g opacity="0.92"><line x1="-262.4" y1="43.7" x2="-278.7" y2="46.5" stroke-width="2.9" stroke-opacity="0.8"/><polygon points="-285.8,47.6 -281.4,44.1 -277.2,44.8 -276.7,47.5 -280.5,49.6" stroke="none"/></g><g opacity="0.92"><line x1="-262.4" y1="0.0" x2="-280.1" y2="0.0" stroke-width="2.9" stroke-opacity="0.8"/><polygon points="-287.3,0.0 -282.4,-2.8 -278.3,-1.4 -278.3,1.4 -282.4,2.8" stroke="none"/></g><g opacity="0.92"><line x1="-262.4" y1="-43.7" x2="-278.7" y2="-46.5" stroke-width="2.9" stroke-opacity="0.8"/><polygon points="-285.8,-47.6 -280.5,-49.6 -276.7,-47.5 -277.2,-44.8 -281.4,-44.1" stroke="none"/></g><g opacity="0.92"><line x1="-262.4" y1="-87.5" x2="-275.5" y2="-91.8" stroke-width="2.9" stroke-opacity="0.8"/><polygon points="-281.7,-93.9 -276.6,-95.1 -273.5,-92.6 -274.4,-90.0 -278.3,-89.8" stroke="none"/></g><g opacity="0.92"><line x1="-262.4" y1="-131.2" x2="-271.1" y2="-135.5" stroke-width="2.4" stroke-opacity="0.8"/><polygon points="-275.9,-137.9 -271.5,-138.5 -269.3,-136.0 -270.4,-133.8 -273.7,-134.1" stroke="none"/></g><g opacity="0.50"><line x1="-262.4" y1="-175.0" x2="-266.6" y2="-177.7" stroke-width="1.8" stroke-opacity="0.8"/><polygon points="-270.0,-180.0 -266.6,-180.1 -265.2,-178.0 -266.3,-176.4 -268.8,-176.8" stroke="none"/></g><g opacity="0.50"><line x1="-218.7" y1="218.7" x2="-222.9" y2="222.9" stroke-width="1.8" stroke-opacity="0.8"/><polygon points="-226.0,226.0 -225.4,222.4 -222.9,221.4 -221.4,222.9 -222.4,225.4" stroke="none"/></g><g opacity="0.92"><line x1="-218.7" y1="175.0" x2="-228.8" y2="183.0" stroke-width="2.4" stroke-opacity="0.8"/><polygon points="-233.7,187.0 -232.1,182.1 -228.4,181.0 -226.7,183.1 -228.6,186.5" stroke="none"/></g><g opacity="0.92"><line x1="-218.7" y1="131.2" x2="-234.9" y2="140.9" stroke-width="2.9" stroke-opacity="0.8"/><polygon points="-241.0,144.6 -238.2,139.7 -234.0,138.8 -232.6,141.2 -235.4,144.5" stroke="none"/></g><g opacity="0.92"><line x1="-218.7" y1="87.5" x2="-238.9" y2="95.6" stroke-width="2.9" stroke-opacity="0.8"/><polygon points="-245.6,98.2 -242.1,93.8 -237.8,93.6 -236.7,96.2 -240.0,99.0" stroke="none"/></g><g opacity="0.92"><line x1="-218.7" y1="43.7" x2="-241.9" y2="48.4" stroke-width="2.9" stroke-opacity="0.8"/><polygon points="-249.0,49.8 -244.7,46.1 -240.4,46.7 -239.9,49.4 -243.6,51.6" stroke="none"/></g><g opacity="0.92"><line x1="-218.7" y1="0.0" x2="-243.0" y2="0.0" stroke-width="2.9" stroke-opacity="0.8"/><polygon points="-250.2,0.0 -245.3,-2.8 -241.2,-1.4 -241.2,1.4 -245.3,2.8" stroke="none"/></g><g opacity="0.92"><line x1="-218.7" y1="-43.7" x2="-241.9" y2="-48.4" stroke-width="2.9" stroke-opacity="0.8"/><polygon points="-249.0,-49.8 -243.6,-51.6 -239.9,-49.4 -240.4,-46.7 -244.7,-46.1" stroke="none"/></g><g opacity="0.92"><line x1="-218.7" y1="-87.5" x2="-238.9" y2="-95.6" stroke-width="2.9" stroke-opacity="0.8"/><polygon points="-245.6,-98.2 -240.0,-99.0 -236.7,-96.2 -237.8,-93.6 -242.1,-93.8" stroke="none"/></g><g opacity="0.92"><line x1="-218.7" y1="-131.2" x2="-234.9" y2="-140.9" stroke-width="2.9" stroke-opacity="0.8"/><polygon points="-241.0,-144.6 -235.4,-144.5 -232.6,-141.2 -234.0,-138.8 -238.2,-139.7" stroke="none"/></g><g opacity="0.92"><line x1="-218.7" y1="-175.0" x2="-228.8" y2="-183.0" stroke-width="2.4" stroke-opacity="0.8"/><polygon points="-233.7,-187.0 -228.6,-186.5 -226.7,-183.1 -228.4,-181.0 -232.1,-182.1" stroke="none"/></g><g opacity="0.50"><line x1="-218.7" y1="-218.7" x2="-222.9" y2="-222.9" stroke-width="1.8" stroke-opacity="0.8"/><polygon points="-226.0,-226.0 -222.4,-225.4 -221.4,-222.9 -222.9,-221.4 -225.4,-222.4" stroke="none"/></g><g opacity="0.50"><line x1="-175.0" y1="262.4" x2="-177.7" y2="266.6" stroke-width="1.8" stroke-opacity="0.8"/><polygon points="-180.0,270.0 -180.1,266.6 -178.0,265.2 -176.4,266.3 -176.8,268.8" stroke="none"/></g><g opacity="0.92"><line x1="-175.0" y1="218.7" x2="-183.0" y2="228.8" stroke-width="2.4" stroke-opacity="0.8"/><polygon points="-187.0,233.7 -186.5,228.6 -183.1,226.7 -181.0,228.4 -182.1,232.1" stroke="none"/></g><g opacity="0.92"><line x1="-175.0" y1="175.0" x2="-189.1" y2="189.1" stroke-width="2.9" stroke-opacity="0.8"/><polygon points="-194.2,194.2 -192.7,188.7 -188.8,186.8 -186.8,188.8 -188.7,192.7" stroke="none"/></g><g opacity="0.92"><line x1="-175.0" y1="131.2" x2="-194.4" y2="145.8" stroke-width="2.9" stroke-opacity="0.8"/><polygon points="-200.2,150.1 -197.9,144.9 -193.8,143.6 -192.1,145.8 -194.5,149.4" stroke="none"/></g><g opacity="0.92"><line x1="-175.0" y1="87.5" x2="-197.2" y2="98.6" stroke-width="2.9" stroke-opacity="0.8"/><polygon points="-203.6,101.8 -200.4,97.1 -196.2,96.5 -194.9,99.0 -197.9,102.1" stroke="none"/></g><g opacity="0.92"><line x1="-175.0" y1="43.7" x2="-199.4" y2="49.8" stroke-width="2.9" stroke-opacity="0.8"/><polygon points="-206.4,51.6 -202.2,47.7 -198.0,48.1 -197.3,50.8 -200.9,53.1" stroke="none"/></g><g opacity="0.92"><line x1="-175.0" y1="0.0" x2="-200.3" y2="0.0" stroke-width="2.9" stroke-opacity="0.8"/><polygon points="-207.5,0.0 -202.5,-2.8 -198.5,-1.4 -198.5,1.4 -202.5,2.8" stroke="none"/></g><g opacity="0.92"><line x1="-175.0" y1="-43.7" x2="-199.4" y2="-49.8" stroke-width="2.9" stroke-opacity="0.8"/><polygon points="-206.4,-51.6 -200.9,-53.1 -197.3,-50.8 -198.0,-48.1 -202.2,-47.7" stroke="none"/></g><g opacity="0.92"><line x1="-175.0" y1="-87.5" x2="-197.2" y2="-98.6" stroke-width="2.9" stroke-opacity="0.8"/><polygon points="-203.6,-101.8 -197.9,-102.1 -194.9,-99.0 -196.2,-96.5 -200.4,-97.1" stroke="none"/></g><g opacity="0.92"><line x1="-175.0" y1="-131.2" x2="-194.4" y2="-145.8" stroke-width="2.9" stroke-opacity="0.8"/><polygon points="-200.2,-150.1 -194.5,-149.4 -192.1,-145.8 -193.8,-143.6 -197.9,-144.9" stroke="none"/></g><g opacity="0.92"><line x1="-175.0" y1="-175.0" x2="-189.1" y2="-189.1" stroke-width="2.9" stroke-opacity="0.8"/><polygon points="-194.2,-194.2 -188.7,-192.7 -186.8,-188.8 -188.8,-186.8 -192.7,-188.7" stroke="none"/></g><g opacity="0.92"><line x1="-175.0" y1="-218.7" x2="-183.0" y2="-228.8" stroke-width="2.4" stroke-opacity="0.8"/><polygon points="-187.0,-233.7 -182.1,-232.1 -181.0,-228.4 -183.1,-226.7 -186.5,-228.6" stroke="none"/></g><g opacity="0.50"><line x1="-175.0" y1="-262.4" x2="-177.7" y2="-266.6" stroke-width="1.8" stroke-opacity="0.8"/><polygon points="-180.0,-270.0 -176.8,-268.8 -176.4,-266.3 -178.0,-265.2 -180.1,-266.6" stroke="none"/></g><g opacity="0.92"><line x1="-131.2" y1="262.4" x2="-135.5" y2="271.1" stroke-width="2.4" stroke-opacity="0.8"/><polygon points="-137.9,275.9 -138.5,271.5 -136.0,269.3 -133.8,270.4 -134.1,273.7" stroke="none"/></g><g opacity="0.92"><line x1="-131.2" y1="218.7" x2="-140.9" y2="234.9" stroke-width="2.9" stroke-opacity="0.8"/><polygon points="-144.6,241.0 -144.5,235.4 -141.2,232.6 -138.8,234.0 -139.7,238.2" stroke="none"/></g><g opacity="0.92"><line x1="-131.2" y1="175.0" x2="-145.8" y2="194.4" stroke-width="2.9" stroke-opacity="0.8"/><polygon points="-150.1,200.2 -149.4,194.5 -145.8,192.1 -143.6,193.8 -144.9,197.9" stroke="none"/></g><g opacity="0.92"><line x1="-131.2" y1="131.2" x2="-148.9" y2="148.9" stroke-width="2.9" stroke-opacity="0.8"/><polygon points="-154.0,154.0 -152.5,148.6 -148.7,146.7 -146.7,148.7 -148.6,152.5" stroke="none"/></g><g opacity="0.92"><line x1="-131.2" y1="87.5" x2="-151.8" y2="101.2" stroke-width="2.9" stroke-opacity="0.8"/><polygon points="-157.8,105.2 -155.2,100.1 -151.1,99.0 -149.5,101.4 -152.1,104.8" stroke="none"/></g><g opacity="0.92"><line x1="-131.2" y1="43.7" x2="-154.0" y2="51.3" stroke-width="2.9" stroke-opacity="0.8"/><polygon points="-160.9,53.6 -157.1,49.4 -152.8,49.4 -151.9,52.1 -155.3,54.7" stroke="none"/></g><g opacity="0.92"><line x1="-131.2" y1="0.0" x2="-155.0" y2="0.0" stroke-width="2.9" stroke-opacity="0.8"/><polygon points="-162.2,0.0 -157.3,-2.8 -153.2,-1.4 -153.2,1.4 -157.3,2.8" stroke="none"/></g><g opacity="0.92"><line x1="-131.2" y1="-43.7" x2="-154.0" y2="-51.3" stroke-width="2.9" stroke-opacity="0.8"/><polygon points="-160.9,-53.6 -155.3,-54.7 -151.9,-52.1 -152.8,-49.4 -157.1,-49.4" stroke="none"/></g><g opacity="0.92"><line x1="-131.2" y1="-87.5" x2="-151.8" y2="-101.2" stroke-width="2.9" stroke-opacity="0.8"/><polygon points="-157.8,-105.2 -152.1,-104.8 -149.5,-101.4 -151.1,-99.0 -155.2,-100.1" stroke="none"/></g><g opacity="0.92"><line x1="-131.2" y1="-131.2" x2="-148.9" y2="-148.9" stroke-width="2.9" stroke-opacity="0.8"/><polygon points="-154.0,-154.0 -148.6,-152.5 -146.7,-148.7 -148.7,-146.7 -152.5,-148.6" stroke="none"/></g><g opacity="0.92"><line x1="-131.2" y1="-175.0" x2="-145.8" y2="-194.4" stroke-width="2.9" stroke-opacity="0.8"/><polygon points="-150.1,-200.2 -144.9,-197.9 -143.6,-193.8 -145.8,-192.1 -149.4,-194.5" stroke="none"/></g><g opacity="0.92"><line x1="-131.2" y1="-218.7" x2="-140.9" y2="-234.9" stroke-width="2.9" stroke-opacity="0.8"/><polygon points="-144.6,-241.0 -139.7,-238.2 -138.8,-234.0 -141.2,-232.6 -144.5,-235.4" stroke="none"/></g><g opacity="0.92"><line x1="-131.2" y1="-262.4" x2="-135.5" y2="-271.1" stroke-width="2.4" stroke-opacity="0.8"/><polygon points="-137.9,-275.9 -134.1,-273.7 -133.8,-270.4 -136.0,-269.3 -138.5,-271.5" stroke="none"/></g><g opacity="0.50"><line x1="-87.5" y1="306.2" x2="-88.7" y2="310.5" stroke-width="1.8" stroke-opacity="0.8"/><polygon points="-89.8,314.3 -90.9,311.2 -89.4,309.3 -87.5,309.9 -87.2,312.2" stroke="none"/></g><g opacity="0.92"><line x1="-87.5" y1="262.4" x2="-91.8" y2="275.5" stroke-width="2.9" stroke-opacity="0.8"/><polygon points="-93.9,281.7 -95.1,276.6 -92.6,273.5 -90.0,274.4 -89.8,278.3" stroke="none"/></g><g opacity="0.92"><line x1="-87.5" y1="218.7" x2="-95.6" y2="238.9" stroke-width="2.9" stroke-opacity="0.8"/><polygon points="-98.2,245.6 -99.0,240.0 -96.2,236.7 -93.6,237.8 -93.8,242.1" stroke="none"/></g><g opacity="0.92"><line x1="-87.5" y1="175.0" x2="-98.6" y2="197.2" stroke-width="2.9" stroke-opacity="0.8"/><polygon points="-101.8,203.6 -102.1,197.9 -99.0,194.9 -96.5,196.2 -97.1,200.4" stroke="none"/></g><g opacity="0.92"><line x1="-87.5" y1="131.2" x2="-101.2" y2="151.8" stroke-width="2.9" stroke-opacity="0.8"/><polygon points="-105.2,157.8 -104.8,152.1 -101.4,149.5 -99.0,151.1 -100.1,155.2" stroke="none"/></g><g opacity="0.92"><line x1="-87.5" y1="87.5" x2="-102.9" y2="102.9" stroke-width="2.9" stroke-opacity="0.8"/><polygon points="-108.0,108.0 -106.4,102.5 -102.6,100.6 -100.6,102.6 -102.5,106.4" stroke="none"/></g><g opacity="0.92"><line x1="-87.5" y1="43.7" x2="-103.0" y2="51.5" stroke-width="2.9" stroke-opacity="0.8"/><polygon points="-109.5,54.7 -106.3,50.0 -102.0,49.5 -100.8,52.0 -103.8,55.0" stroke="none"/></g><g opacity="0.92"><line x1="-87.5" y1="0.0" x2="-103.7" y2="0.0" stroke-width="2.9" stroke-opacity="0.8"/><polygon points="-110.9,0.0 -106.0,-2.8 -101.9,-1.4 -101.9,1.4 -106.0,2.8" stroke="none"/></g><g opacity="0.92"><line x1="-87.5" y1="-43.7" x2="-103.0" y2="-51.5" stroke-width="2.9" stroke-opacity="0.8"/><polygon points="-109.5,-54.7 -103.8,-55.0 -100.8,-52.0 -102.0,-49.5 -106.3,-50.0" stroke="none"/></g><g opacity="0.92"><line x1="-87.5" y1="-87.5" x2="-102.9" y2="-102.9" stroke-width="2.9" stroke-opacity="0.8"/><polygon points="-108.0,-108.0 -102.5,-106.4 -100.6,-102.6 -102.6,-100.6 -106.4,-102.5" stroke="none"/></g><g opacity="0.92"><line x1="-87.5" y1="-131.2" x2="-101.2" y2="-151.8" stroke-width="2.9" stroke-opacity="0.8"/><polygon points="-105.2,-157.8 -100.1,-155.2 -99.0,-151.1 -101.4,-149.5 -104.8,-152.1" stroke="none"/></g><g opacity="0.92"><line x1="-87.5" y1="-175.0" x2="-98.6" y2="-197.2" stroke-width="2.9" stroke-opacity="0.8"/><polygon points="-101.8,-203.6 -97.1,-200.4 -96.5,-196.2 -99.0,-194.9 -102.1,-197.9" stroke="none"/></g><g opacity="0.92"><line x1="-87.5" y1="-218.7" x2="-95.6" y2="-238.9" stroke-width="2.9" stroke-opacity="0.8"/><polygon points="-98.2,-245.6 -93.8,-242.1 -93.6,-237.8 -96.2,-236.7 -99.0,-240.0" stroke="none"/></g><g opacity="0.92"><line x1="-87.5" y1="-262.4" x2="-91.8" y2="-275.5" stroke-width="2.9" stroke-opacity="0.8"/><polygon points="-93.9,-281.7 -89.8,-278.3 -90.0,-274.4 -92.6,-273.5 -95.1,-276.6" stroke="none"/></g><g opacity="0.50"><line x1="-87.5" y1="-306.2" x2="-88.7" y2="-310.5" stroke-width="1.8" stroke-opacity="0.8"/><polygon points="-89.8,-314.3 -87.2,-312.2 -87.5,-309.9 -89.4,-309.3 -90.9,-311.2" stroke="none"/></g><g opacity="0.50"><line x1="-43.7" y1="306.2" x2="-44.6" y2="312.1" stroke-width="1.8" stroke-opacity="0.8"/><polygon points="-45.2,316.4 -46.8,313.2 -45.5,310.9 -43.4,311.2 -42.7,313.8" stroke="none"/></g><g opacity="0.92"><line x1="-43.7" y1="262.4" x2="-46.5" y2="278.7" stroke-width="2.9" stroke-opacity="0.8"/><polygon points="-47.6,285.8 -49.6,280.5 -47.5,276.7 -44.8,277.2 -44.1,281.4" stroke="none"/></g><g opacity="0.92"><line x1="-43.7" y1="218.7" x2="-48.4" y2="241.9" stroke-width="2.9" stroke-opacity="0.8"/><polygon points="-49.8,249.0 -51.6,243.6 -49.4,239.9 -46.7,240.4 -46.1,244.7" stroke="none"/></g><g opacity="0.92"><line x1="-43.7" y1="175.0" x2="-49.8" y2="199.4" stroke-width="2.9" stroke-opacity="0.8"/><polygon points="-51.6,206.4 -53.1,200.9 -50.8,197.3 -48.1,198.0 -47.7,202.2" stroke="none"/></g><g opacity="0.92"><line x1="-43.7" y1="131.2" x2="-51.3" y2="154.0" stroke-width="2.9" stroke-opacity="0.8"/><polygon points="-53.6,160.9 -54.7,155.3 -52.1,151.9 -49.4,152.8 -49.4,157.1" stroke="none"/></g><g opacity="0.92"><line x1="-43.7" y1="87.5" x2="-51.5" y2="103.0" stroke-width="2.9" stroke-opacity="0.8"/><polygon points="-54.7,109.5 -55.0,103.8 -52.0,100.8 -49.5,102.0 -50.0,106.3" stroke="none"/></g><g opacity="0.92"><line x1="-43.7" y1="43.7" x2="-51.4" y2="51.4" stroke-width="2.4" stroke-opacity="0.8"/><polygon points="-55.5,55.5 -54.5,50.8 -51.3,49.5 -49.5,51.3 -50.8,54.5" stroke="none"/></g><g opacity="0.62"><line x1="-43.7" y1="0.0" x2="-51.4" y2="0.0" stroke-width="1.8" stroke-opacity="0.8"/><polygon points="-56.2,0.0 -52.9,-2.3 -50.2,-1.1 -50.2,1.1 -52.9,2.3" stroke="none"/></g><g opacity="0.92"><line x1="-43.7" y1="-43.7" x2="-51.4" y2="-51.4" stroke-width="2.4" stroke-opacity="0.8"/><polygon points="-55.5,-55.5 -50.8,-54.5 -49.5,-51.3 -51.3,-49.5 -54.5,-50.8" stroke="none"/></g><g opacity="0.92"><line x1="-43.7" y1="-87.5" x2="-51.5" y2="-103.0" stroke-width="2.9" stroke-opacity="0.8"/><polygon points="-54.7,-109.5 -50.0,-106.3 -49.5,-102.0 -52.0,-100.8 -55.0,-103.8" stroke="none"/></g><g opacity="0.92"><line x1="-43.7" y1="-131.2" x2="-51.3" y2="-154.0" stroke-width="2.9" stroke-opacity="0.8"/><polygon points="-53.6,-160.9 -49.4,-157.1 -49.4,-152.8 -52.1,-151.9 -54.7,-155.3" stroke="none"/></g><g opacity="0.92"><line x1="-43.7" y1="-175.0" x2="-49.8" y2="-199.4" stroke-width="2.9" stroke-opacity="0.8"/><polygon points="-51.6,-206.4 -47.7,-202.2 -48.1,-198.0 -50.8,-197.3 -53.1,-200.9" stroke="none"/></g><g opacity="0.92"><line x1="-43.7" y1="-218.7" x2="-48.4" y2="-241.9" stroke-width="2.9" stroke-opacity="0.8"/><polygon points="-49.8,-249.0 -46.1,-244.7 -46.7,-240.4 -49.4,-239.9 -51.6,-243.6" stroke="none"/></g><g opacity="0.92"><line x1="-43.7" y1="-262.4" x2="-46.5" y2="-278.7" stroke-width="2.9" stroke-opacity="0.8"/><polygon points="-47.6,-285.8 -44.1,-281.4 -44.8,-277.2 -47.5,-276.7 -49.6,-280.5" stroke="none"/></g><g opacity="0.50"><line x1="-43.7" y1="-306.2" x2="-44.6" y2="-312.1" stroke-width="1.8" stroke-opacity="0.8"/><polygon points="-45.2,-316.4 -42.7,-313.8 -43.4,-311.2 -45.5,-310.9 -46.8,-313.2" stroke="none"/></g><g opacity="0.50"><line x1="0.0" y1="306.2" x2="0.0" y2="312.7" stroke-width="1.8" stroke-opacity="0.8"/><polygon points="0.0,317.1 -2.1,314.1 -1.1,311.6 1.1,311.6 2.1,314.1" stroke="none"/></g><g opacity="0.92"><line x1="0.0" y1="262.4" x2="0.0" y2="280.1" stroke-width="2.9" stroke-opacity="0.8"/><polygon points="0.0,287.3 -2.8,282.4 -1.4,278.3 1.4,278.3 2.8,282.4" stroke="none"/></g><g opacity="0.92"><line x1="0.0" y1="218.7" x2="0.0" y2="243.0" stroke-width="2.9" stroke-opacity="0.8"/><polygon points="0.0,250.2 -2.8,245.3 -1.4,241.2 1.4,241.2 2.8,245.3" stroke="none"/></g><g opacity="0.92"><line x1="0.0" y1="175.0" x2="0.0" y2="200.3" stroke-width="2.9" stroke-opacity="0.8"/><polygon points="0.0,207.5 -2.8,202.5 -1.4,198.5 1.4,198.5 2.8,202.5" stroke="none"/></g><g opacity="0.92"><line x1="0.0" y1="131.2" x2="0.0" y2="155.0" stroke-width="2.9" stroke-opacity="0.8"/><polygon points="0.0,162.2 -2.8,157.3 -1.4,153.2 1.4,153.2 2.8,157.3" stroke="none"/></g><g opacity="0.92"><line x1="0.0" y1="87.5" x2="0.0" y2="103.7" stroke-width="2.9" stroke-opacity="0.8"/><polygon points="0.0,110.9 -2.8,106.0 -1.4,101.9 1.4,101.9 2.8,106.0" stroke="none"/></g><g opacity="0.62"><line x1="0.0" y1="43.7" x2="0.0" y2="51.4" stroke-width="1.8" stroke-opacity="0.8"/><polygon points="0.0,56.2 -2.3,52.9 -1.1,50.2 1.1,50.2 2.3,52.9" stroke="none"/></g><g opacity="0.62"><line x1="0.0" y1="-43.7" x2="0.0" y2="-51.4" stroke-width="1.8" stroke-opacity="0.8"/><polygon points="0.0,-56.2 2.3,-52.9 1.1,-50.2 -1.1,-50.2 -2.3,-52.9" stroke="none"/></g><g opacity="0.92"><line x1="0.0" y1="-87.5" x2="0.0" y2="-103.7" stroke-width="2.9" stroke-opacity="0.8"/><polygon points="0.0,-110.9 2.8,-106.0 1.4,-101.9 -1.4,-101.9 -2.8,-106.0" stroke="none"/></g><g opacity="0.92"><line x1="0.0" y1="-131.2" x2="0.0" y2="-155.0" stroke-width="2.9" stroke-opacity="0.8"/><polygon points="0.0,-162.2 2.8,-157.3 1.4,-153.2 -1.4,-153.2 -2.8,-157.3" stroke="none"/></g><g opacity="0.92"><line x1="0.0" y1="-175.0" x2="0.0" y2="-200.3" stroke-width="2.9" stroke-opacity="0.8"/><polygon points="0.0,-207.5 2.8,-202.5 1.4,-198.5 -1.4,-198.5 -2.8,-202.5" stroke="none"/></g><g opacity="0.92"><line x1="0.0" y1="-218.7" x2="0.0" y2="-243.0" stroke-width="2.9" stroke-opacity="0.8"/><polygon points="0.0,-250.2 2.8,-245.3 1.4,-241.2 -1.4,-241.2 -2.8,-245.3" stroke="none"/></g><g opacity="0.92"><line x1="0.0" y1="-262.4" x2="0.0" y2="-280.1" stroke-width="2.9" stroke-opacity="0.8"/><polygon points="0.0,-287.3 2.8,-282.4 1.4,-278.3 -1.4,-278.3 -2.8,-282.4" stroke="none"/></g><g opacity="0.50"><line x1="0.0" y1="-306.2" x2="0.0" y2="-312.7" stroke-width="1.8" stroke-opacity="0.8"/><polygon points="0.0,-317.1 2.1,-314.1 1.1,-311.6 -1.1,-311.6 -2.1,-314.1" stroke="none"/></g><g opacity="0.50"><line x1="43.7" y1="306.2" x2="44.6" y2="312.1" stroke-width="1.8" stroke-opacity="0.8"/><polygon points="45.2,316.4 42.7,313.8 43.4,311.2 45.5,310.9 46.8,313.2" stroke="none"/></g><g opacity="0.92"><line x1="43.7" y1="262.4" x2="46.5" y2="278.7" stroke-width="2.9" stroke-opacity="0.8"/><polygon points="47.6,285.8 44.1,281.4 44.8,277.2 47.5,276.7 49.6,280.5" stroke="none"/></g><g opacity="0.92"><line x1="43.7" y1="218.7" x2="48.4" y2="241.9" stroke-width="2.9" stroke-opacity="0.8"/><polygon points="49.8,249.0 46.1,244.7 46.7,240.4 49.4,239.9 51.6,243.6" stroke="none"/></g><g opacity="0.92"><line x1="43.7" y1="175.0" x2="49.8" y2="199.4" stroke-width="2.9" stroke-opacity="0.8"/><polygon points="51.6,206.4 47.7,202.2 48.1,198.0 50.8,197.3 53.1,200.9" stroke="none"/></g><g opacity="0.92"><line x1="43.7" y1="131.2" x2="51.3" y2="154.0" stroke-width="2.9" stroke-opacity="0.8"/><polygon points="53.6,160.9 49.4,157.1 49.4,152.8 52.1,151.9 54.7,155.3" stroke="none"/></g><g opacity="0.92"><line x1="43.7" y1="87.5" x2="51.5" y2="103.0" stroke-width="2.9" stroke-opacity="0.8"/><polygon points="54.7,109.5 50.0,106.3 49.5,102.0 52.0,100.8 55.0,103.8" stroke="none"/></g><g opacity="0.92"><line x1="43.7" y1="43.7" x2="51.4" y2="51.4" stroke-width="2.4" stroke-opacity="0.8"/><polygon points="55.5,55.5 50.8,54.5 49.5,51.3 51.3,49.5 54.5,50.8" stroke="none"/></g><g opacity="0.62"><line x1="43.7" y1="0.0" x2="51.4" y2="0.0" stroke-width="1.8" stroke-opacity="0.8"/><polygon points="56.2,0.0 52.9,2.3 50.2,1.1 50.2,-1.1 52.9,-2.3" stroke="none"/></g><g opacity="0.92"><line x1="43.7" y1="-43.7" x2="51.4" y2="-51.4" stroke-width="2.4" stroke-opacity="0.8"/><polygon points="55.5,-55.5 54.5,-50.8 51.3,-49.5 49.5,-51.3 50.8,-54.5" stroke="none"/></g><g opacity="0.92"><line x1="43.7" y1="-87.5" x2="51.5" y2="-103.0" stroke-width="2.9" stroke-opacity="0.8"/><polygon points="54.7,-109.5 55.0,-103.8 52.0,-100.8 49.5,-102.0 50.0,-106.3" stroke="none"/></g><g opacity="0.92"><line x1="43.7" y1="-131.2" x2="51.3" y2="-154.0" stroke-width="2.9" stroke-opacity="0.8"/><polygon points="53.6,-160.9 54.7,-155.3 52.1,-151.9 49.4,-152.8 49.4,-157.1" stroke="none"/></g><g opacity="0.92"><line x1="43.7" y1="-175.0" x2="49.8" y2="-199.4" stroke-width="2.9" stroke-opacity="0.8"/><polygon points="51.6,-206.4 53.1,-200.9 50.8,-197.3 48.1,-198.0 47.7,-202.2" stroke="none"/></g><g opacity="0.92"><line x1="43.7" y1="-218.7" x2="48.4" y2="-241.9" stroke-width="2.9" stroke-opacity="0.8"/><polygon points="49.8,-249.0 51.6,-243.6 49.4,-239.9 46.7,-240.4 46.1,-244.7" stroke="none"/></g><g opacity="0.92"><line x1="43.7" y1="-262.4" x2="46.5" y2="-278.7" stroke-width="2.9" stroke-opacity="0.8"/><polygon points="47.6,-285.8 49.6,-280.5 47.5,-276.7 44.8,-277.2 44.1,-281.4" stroke="none"/></g><g opacity="0.50"><line x1="43.7" y1="-306.2" x2="44.6" y2="-312.1" stroke-width="1.8" stroke-opacity="0.8"/><polygon points="45.2,-316.4 46.8,-313.2 45.5,-310.9 43.4,-311.2 42.7,-313.8" stroke="none"/></g><g opacity="0.50"><line x1="87.5" y1="306.2" x2="88.7" y2="310.5" stroke-width="1.8" stroke-opacity="0.8"/><polygon points="89.8,314.3 87.2,312.2 87.5,309.9 89.4,309.3 90.9,311.2" stroke="none"/></g><g opacity="0.92"><line x1="87.5" y1="262.4" x2="91.8" y2="275.5" stroke-width="2.9" stroke-opacity="0.8"/><polygon points="93.9,281.7 89.8,278.3 90.0,274.4 92.6,273.5 95.1,276.6" stroke="none"/></g><g opacity="0.92"><line x1="87.5" y1="218.7" x2="95.6" y2="238.9" stroke-width="2.9" stroke-opacity="0.8"/><polygon points="98.2,245.6 93.8,242.1 93.6,237.8 96.2,236.7 99.0,240.0" stroke="none"/></g><g opacity="0.92"><line x1="87.5" y1="175.0" x2="98.6" y2="197.2" stroke-width="2.9" stroke-opacity="0.8"/><polygon points="101.8,203.6 97.1,200.4 96.5,196.2 99.0,194.9 102.1,197.9" stroke="none"/></g><g opacity="0.92"><line x1="87.5" y1="131.2" x2="101.2" y2="151.8" stroke-width="2.9" stroke-opacity="0.8"/><polygon points="105.2,157.8 100.1,155.2 99.0,151.1 101.4,149.5 104.8,152.1" stroke="none"/></g><g opacity="0.92"><line x1="87.5" y1="87.5" x2="102.9" y2="102.9" stroke-width="2.9" stroke-opacity="0.8"/><polygon points="108.0,108.0 102.5,106.4 100.6,102.6 102.6,100.6 106.4,102.5" stroke="none"/></g><g opacity="0.92"><line x1="87.5" y1="43.7" x2="103.0" y2="51.5" stroke-width="2.9" stroke-opacity="0.8"/><polygon points="109.5,54.7 103.8,55.0 100.8,52.0 102.0,49.5 106.3,50.0" stroke="none"/></g><g opacity="0.92"><line x1="87.5" y1="0.0" x2="103.7" y2="0.0" stroke-width="2.9" stroke-opacity="0.8"/><polygon points="110.9,0.0 106.0,2.8 101.9,1.4 101.9,-1.4 106.0,-2.8" stroke="none"/></g><g opacity="0.92"><line x1="87.5" y1="-43.7" x2="103.0" y2="-51.5" stroke-width="2.9" stroke-opacity="0.8"/><polygon points="109.5,-54.7 106.3,-50.0 102.0,-49.5 100.8,-52.0 103.8,-55.0" stroke="none"/></g><g opacity="0.92"><line x1="87.5" y1="-87.5" x2="102.9" y2="-102.9" stroke-width="2.9" stroke-opacity="0.8"/><polygon points="108.0,-108.0 106.4,-102.5 102.6,-100.6 100.6,-102.6 102.5,-106.4" stroke="none"/></g><g opacity="0.92"><line x1="87.5" y1="-131.2" x2="101.2" y2="-151.8" stroke-width="2.9" stroke-opacity="0.8"/><polygon points="105.2,-157.8 104.8,-152.1 101.4,-149.5 99.0,-151.1 100.1,-155.2" stroke="none"/></g><g opacity="0.92"><line x1="87.5" y1="-175.0" x2="98.6" y2="-197.2" stroke-width="2.9" stroke-opacity="0.8"/><polygon points="101.8,-203.6 102.1,-197.9 99.0,-194.9 96.5,-196.2 97.1,-200.4" stroke="none"/></g><g opacity="0.92"><line x1="87.5" y1="-218.7" x2="95.6" y2="-238.9" stroke-width="2.9" stroke-opacity="0.8"/><polygon points="98.2,-245.6 99.0,-240.0 96.2,-236.7 93.6,-237.8 93.8,-242.1" stroke="none"/></g><g opacity="0.92"><line x1="87.5" y1="-262.4" x2="91.8" y2="-275.5" stroke-width="2.9" stroke-opacity="0.8"/><polygon points="93.9,-281.7 95.1,-276.6 92.6,-273.5 90.0,-274.4 89.8,-278.3" stroke="none"/></g><g opacity="0.50"><line x1="87.5" y1="-306.2" x2="88.7" y2="-310.5" stroke-width="1.8" stroke-opacity="0.8"/><polygon points="89.8,-314.3 90.9,-311.2 89.4,-309.3 87.5,-309.9 87.2,-312.2" stroke="none"/></g><g opacity="0.92"><line x1="131.2" y1="262.4" x2="135.5" y2="271.1" stroke-width="2.4" stroke-opacity="0.8"/><polygon points="137.9,275.9 134.1,273.7 133.8,270.4 136.0,269.3 138.5,271.5" stroke="none"/></g><g opacity="0.92"><line x1="131.2" y1="218.7" x2="140.9" y2="234.9" stroke-width="2.9" stroke-opacity="0.8"/><polygon points="144.6,241.0 139.7,238.2 138.8,234.0 141.2,232.6 144.5,235.4" stroke="none"/></g><g opacity="0.92"><line x1="131.2" y1="175.0" x2="145.8" y2="194.4" stroke-width="2.9" stroke-opacity="0.8"/><polygon points="150.1,200.2 144.9,197.9 143.6,193.8 145.8,192.1 149.4,194.5" stroke="none"/></g><g opacity="0.92"><line x1="131.2" y1="131.2" x2="148.9" y2="148.9" stroke-width="2.9" stroke-opacity="0.8"/><polygon points="154.0,154.0 148.6,152.5 146.7,148.7 148.7,146.7 152.5,148.6" stroke="none"/></g><g opacity="0.92"><line x1="131.2" y1="87.5" x2="151.8" y2="101.2" stroke-width="2.9" stroke-opacity="0.8"/><polygon points="157.8,105.2 152.1,104.8 149.5,101.4 151.1,99.0 155.2,100.1" stroke="none"/></g><g opacity="0.92"><line x1="131.2" y1="43.7" x2="154.0" y2="51.3" stroke-width="2.9" stroke-opacity="0.8"/><polygon points="160.9,53.6 155.3,54.7 151.9,52.1 152.8,49.4 157.1,49.4" stroke="none"/></g><g opacity="0.92"><line x1="131.2" y1="0.0" x2="155.0" y2="0.0" stroke-width="2.9" stroke-opacity="0.8"/><polygon points="162.2,0.0 157.3,2.8 153.2,1.4 153.2,-1.4 157.3,-2.8" stroke="none"/></g><g opacity="0.92"><line x1="131.2" y1="-43.7" x2="154.0" y2="-51.3" stroke-width="2.9" stroke-opacity="0.8"/><polygon points="160.9,-53.6 157.1,-49.4 152.8,-49.4 151.9,-52.1 155.3,-54.7" stroke="none"/></g><g opacity="0.92"><line x1="131.2" y1="-87.5" x2="151.8" y2="-101.2" stroke-width="2.9" stroke-opacity="0.8"/><polygon points="157.8,-105.2 155.2,-100.1 151.1,-99.0 149.5,-101.4 152.1,-104.8" stroke="none"/></g><g opacity="0.92"><line x1="131.2" y1="-131.2" x2="148.9" y2="-148.9" stroke-width="2.9" stroke-opacity="0.8"/><polygon points="154.0,-154.0 152.5,-148.6 148.7,-146.7 146.7,-148.7 148.6,-152.5" stroke="none"/></g><g opacity="0.92"><line x1="131.2" y1="-175.0" x2="145.8" y2="-194.4" stroke-width="2.9" stroke-opacity="0.8"/><polygon points="150.1,-200.2 149.4,-194.5 145.8,-192.1 143.6,-193.8 144.9,-197.9" stroke="none"/></g><g opacity="0.92"><line x1="131.2" y1="-218.7" x2="140.9" y2="-234.9" stroke-width="2.9" stroke-opacity="0.8"/><polygon points="144.6,-241.0 144.5,-235.4 141.2,-232.6 138.8,-234.0 139.7,-238.2" stroke="none"/></g><g opacity="0.92"><line x1="131.2" y1="-262.4" x2="135.5" y2="-271.1" stroke-width="2.4" stroke-opacity="0.8"/><polygon points="137.9,-275.9 138.5,-271.5 136.0,-269.3 133.8,-270.4 134.1,-273.7" stroke="none"/></g><g opacity="0.50"><line x1="175.0" y1="262.4" x2="177.7" y2="266.6" stroke-width="1.8" stroke-opacity="0.8"/><polygon points="180.0,270.0 176.8,268.8 176.4,266.3 178.0,265.2 180.1,266.6" stroke="none"/></g><g opacity="0.92"><line x1="175.0" y1="218.7" x2="183.0" y2="228.8" stroke-width="2.4" stroke-opacity="0.8"/><polygon points="187.0,233.7 182.1,232.1 181.0,228.4 183.1,226.7 186.5,228.6" stroke="none"/></g><g opacity="0.92"><line x1="175.0" y1="175.0" x2="189.1" y2="189.1" stroke-width="2.9" stroke-opacity="0.8"/><polygon points="194.2,194.2 188.7,192.7 186.8,188.8 188.8,186.8 192.7,188.7" stroke="none"/></g><g opacity="0.92"><line x1="175.0" y1="131.2" x2="194.4" y2="145.8" stroke-width="2.9" stroke-opacity="0.8"/><polygon points="200.2,150.1 194.5,149.4 192.1,145.8 193.8,143.6 197.9,144.9" stroke="none"/></g><g opacity="0.92"><line x1="175.0" y1="87.5" x2="197.2" y2="98.6" stroke-width="2.9" stroke-opacity="0.8"/><polygon points="203.6,101.8 197.9,102.1 194.9,99.0 196.2,96.5 200.4,97.1" stroke="none"/></g><g opacity="0.92"><line x1="175.0" y1="43.7" x2="199.4" y2="49.8" stroke-width="2.9" stroke-opacity="0.8"/><polygon points="206.4,51.6 200.9,53.1 197.3,50.8 198.0,48.1 202.2,47.7" stroke="none"/></g><g opacity="0.92"><line x1="175.0" y1="0.0" x2="200.3" y2="0.0" stroke-width="2.9" stroke-opacity="0.8"/><polygon points="207.5,0.0 202.5,2.8 198.5,1.4 198.5,-1.4 202.5,-2.8" stroke="none"/></g><g opacity="0.92"><line x1="175.0" y1="-43.7" x2="199.4" y2="-49.8" stroke-width="2.9" stroke-opacity="0.8"/><polygon points="206.4,-51.6 202.2,-47.7 198.0,-48.1 197.3,-50.8 200.9,-53.1" stroke="none"/></g><g opacity="0.92"><line x1="175.0" y1="-87.5" x2="197.2" y2="-98.6" stroke-width="2.9" stroke-opacity="0.8"/><polygon points="203.6,-101.8 200.4,-97.1 196.2,-96.5 194.9,-99.0 197.9,-102.1" stroke="none"/></g><g opacity="0.92"><line x1="175.0" y1="-131.2" x2="194.4" y2="-145.8" stroke-width="2.9" stroke-opacity="0.8"/><polygon points="200.2,-150.1 197.9,-144.9 193.8,-143.6 192.1,-145.8 194.5,-149.4" stroke="none"/></g><g opacity="0.92"><line x1="175.0" y1="-175.0" x2="189.1" y2="-189.1" stroke-width="2.9" stroke-opacity="0.8"/><polygon points="194.2,-194.2 192.7,-188.7 188.8,-186.8 186.8,-188.8 188.7,-192.7" stroke="none"/></g><g opacity="0.92"><line x1="175.0" y1="-218.7" x2="183.0" y2="-228.8" stroke-width="2.4" stroke-opacity="0.8"/><polygon points="187.0,-233.7 186.5,-228.6 183.1,-226.7 181.0,-228.4 182.1,-232.1" stroke="none"/></g><g opacity="0.50"><line x1="175.0" y1="-262.4" x2="177.7" y2="-266.6" stroke-width="1.8" stroke-opacity="0.8"/><polygon points="180.0,-270.0 180.1,-266.6 178.0,-265.2 176.4,-266.3 176.8,-268.8" stroke="none"/></g><g opacity="0.50"><line x1="218.7" y1="218.7" x2="222.9" y2="222.9" stroke-width="1.8" stroke-opacity="0.8"/><polygon points="226.0,226.0 222.4,225.4 221.4,222.9 222.9,221.4 225.4,222.4" stroke="none"/></g><g opacity="0.92"><line x1="218.7" y1="175.0" x2="228.8" y2="183.0" stroke-width="2.4" stroke-opacity="0.8"/><polygon points="233.7,187.0 228.6,186.5 226.7,183.1 228.4,181.0 232.1,182.1" stroke="none"/></g><g opacity="0.92"><line x1="218.7" y1="131.2" x2="234.9" y2="140.9" stroke-width="2.9" stroke-opacity="0.8"/><polygon points="241.0,144.6 235.4,144.5 232.6,141.2 234.0,138.8 238.2,139.7" stroke="none"/></g><g opacity="0.92"><line x1="218.7" y1="87.5" x2="238.9" y2="95.6" stroke-width="2.9" stroke-opacity="0.8"/><polygon points="245.6,98.2 240.0,99.0 236.7,96.2 237.8,93.6 242.1,93.8" stroke="none"/></g><g opacity="0.92"><line x1="218.7" y1="43.7" x2="241.9" y2="48.4" stroke-width="2.9" stroke-opacity="0.8"/><polygon points="249.0,49.8 243.6,51.6 239.9,49.4 240.4,46.7 244.7,46.1" stroke="none"/></g><g opacity="0.92"><line x1="218.7" y1="0.0" x2="243.0" y2="0.0" stroke-width="2.9" stroke-opacity="0.8"/><polygon points="250.2,0.0 245.3,2.8 241.2,1.4 241.2,-1.4 245.3,-2.8" stroke="none"/></g><g opacity="0.92"><line x1="218.7" y1="-43.7" x2="241.9" y2="-48.4" stroke-width="2.9" stroke-opacity="0.8"/><polygon points="249.0,-49.8 244.7,-46.1 240.4,-46.7 239.9,-49.4 243.6,-51.6" stroke="none"/></g><g opacity="0.92"><line x1="218.7" y1="-87.5" x2="238.9" y2="-95.6" stroke-width="2.9" stroke-opacity="0.8"/><polygon points="245.6,-98.2 242.1,-93.8 237.8,-93.6 236.7,-96.2 240.0,-99.0" stroke="none"/></g><g opacity="0.92"><line x1="218.7" y1="-131.2" x2="234.9" y2="-140.9" stroke-width="2.9" stroke-opacity="0.8"/><polygon points="241.0,-144.6 238.2,-139.7 234.0,-138.8 232.6,-141.2 235.4,-144.5" stroke="none"/></g><g opacity="0.92"><line x1="218.7" y1="-175.0" x2="228.8" y2="-183.0" stroke-width="2.4" stroke-opacity="0.8"/><polygon points="233.7,-187.0 232.1,-182.1 228.4,-181.0 226.7,-183.1 228.6,-186.5" stroke="none"/></g><g opacity="0.50"><line x1="218.7" y1="-218.7" x2="222.9" y2="-222.9" stroke-width="1.8" stroke-opacity="0.8"/><polygon points="226.0,-226.0 225.4,-222.4 222.9,-221.4 221.4,-222.9 222.4,-225.4" stroke="none"/></g><g opacity="0.50"><line x1="262.4" y1="175.0" x2="266.6" y2="177.7" stroke-width="1.8" stroke-opacity="0.8"/><polygon points="270.0,180.0 266.6,180.1 265.2,178.0 266.3,176.4 268.8,176.8" stroke="none"/></g><g opacity="0.92"><line x1="262.4" y1="131.2" x2="271.1" y2="135.5" stroke-width="2.4" stroke-opacity="0.8"/><polygon points="275.9,137.9 271.5,138.5 269.3,136.0 270.4,133.8 273.7,134.1" stroke="none"/></g><g opacity="0.92"><line x1="262.4" y1="87.5" x2="275.5" y2="91.8" stroke-width="2.9" stroke-opacity="0.8"/><polygon points="281.7,93.9 276.6,95.1 273.5,92.6 274.4,90.0 278.3,89.8" stroke="none"/></g><g opacity="0.92"><line x1="262.4" y1="43.7" x2="278.7" y2="46.5" stroke-width="2.9" stroke-opacity="0.8"/><polygon points="285.8,47.6 280.5,49.6 276.7,47.5 277.2,44.8 281.4,44.1" stroke="none"/></g><g opacity="0.92"><line x1="262.4" y1="0.0" x2="280.1" y2="0.0" stroke-width="2.9" stroke-opacity="0.8"/><polygon points="287.3,0.0 282.4,2.8 278.3,1.4 278.3,-1.4 282.4,-2.8" stroke="none"/></g><g opacity="0.92"><line x1="262.4" y1="-43.7" x2="278.7" y2="-46.5" stroke-width="2.9" stroke-opacity="0.8"/><polygon points="285.8,-47.6 281.4,-44.1 277.2,-44.8 276.7,-47.5 280.5,-49.6" stroke="none"/></g><g opacity="0.92"><line x1="262.4" y1="-87.5" x2="275.5" y2="-91.8" stroke-width="2.9" stroke-opacity="0.8"/><polygon points="281.7,-93.9 278.3,-89.8 274.4,-90.0 273.5,-92.6 276.6,-95.1" stroke="none"/></g><g opacity="0.92"><line x1="262.4" y1="-131.2" x2="271.1" y2="-135.5" stroke-width="2.4" stroke-opacity="0.8"/><polygon points="275.9,-137.9 273.7,-134.1 270.4,-133.8 269.3,-136.0 271.5,-138.5" stroke="none"/></g><g opacity="0.50"><line x1="262.4" y1="-175.0" x2="266.6" y2="-177.7" stroke-width="1.8" stroke-opacity="0.8"/><polygon points="270.0,-180.0 268.8,-176.8 266.3,-176.4 265.2,-178.0 266.6,-180.1" stroke="none"/></g><g opacity="0.50"><line x1="306.2" y1="87.5" x2="310.5" y2="88.7" stroke-width="1.8" stroke-opacity="0.8"/><polygon points="314.3,89.8 311.2,90.9 309.3,89.4 309.9,87.5 312.2,87.2" stroke="none"/></g><g opacity="0.50"><line x1="306.2" y1="43.7" x2="312.1" y2="44.6" stroke-width="1.8" stroke-opacity="0.8"/><polygon points="316.4,45.2 313.2,46.8 310.9,45.5 311.2,43.4 313.8,42.7" stroke="none"/></g><g opacity="0.50"><line x1="306.2" y1="0.0" x2="312.7" y2="0.0" stroke-width="1.8" stroke-opacity="0.8"/><polygon points="317.1,0.0 314.1,2.1 311.6,1.1 311.6,-1.1 314.1,-2.1" stroke="none"/></g><g opacity="0.50"><line x1="306.2" y1="-43.7" x2="312.1" y2="-44.6" stroke-width="1.8" stroke-opacity="0.8"/><polygon points="316.4,-45.2 313.8,-42.7 311.2,-43.4 310.9,-45.5 313.2,-46.8" stroke="none"/></g><g opacity="0.50"><line x1="306.2" y1="-87.5" x2="310.5" y2="-88.7" stroke-width="1.8" stroke-opacity="0.8"/><polygon points="314.3,-89.8 312.2,-87.2 309.9,-87.5 309.3,-89.4 311.2,-90.9" stroke="none"/></g></g>
</g>
<rect x="88.0" y="942.2" width="826.8" height="695.9" fill="none" stroke="#a0a0a0" stroke-width="2"/>
<path d="M173.9 1638.1v-5M173.9 942.2v5M283.3 1638.1v-5M283.3 942.2v5M392.6 1638.1v-5M392.6 942.2v5M502.0 1638.1v-5M502.0 942.2v5M611.4 1638.1v-5M611.4 942.2v5M720.7 1638.1v-5M720.7 942.2v5M830.1 1638.1v-5M830.1 942.2v5M88.0 1628.0h5M914.8 1628.0h-5M88.0 1585.8h5M914.8 1585.8h-5M88.0 1543.6h5M914.8 1543.6h-5M88.0 1501.4h5M914.8 1501.4h-5M88.0 1459.2h5M914.8 1459.2h-5M88.0 1417.0h5M914.8 1417.0h-5M88.0 1374.8h5M914.8 1374.8h-5M88.0 1332.6h5M914.8 1332.6h-5M88.0 1290.4h5M914.8 1290.4h-5M88.0 1248.2h5M914.8 1248.2h-5M88.0 1206.0h5M914.8 1206.0h-5M88.0 1163.8h5M914.8 1163.8h-5M88.0 1121.6h5M914.8 1121.6h-5M88.0 1079.4h5M914.8 1079.4h-5M88.0 1037.2h5M914.8 1037.2h-5M88.0 995.0h5M914.8 995.0h-5M88.0 952.8h5M914.8 952.8h-5" stroke="#999" stroke-width="1.5" fill="none"/>
<text x="85.2" y="1635.9" text-anchor="end">-0.16</text>
<text x="85.2" y="1593.7" text-anchor="end">-0.14</text>
<text x="85.2" y="1551.5" text-anchor="end">-0.12</text>
<text x="85.2" y="1509.3" text-anchor="end">-0.1</text>
<text x="85.2" y="1467.1" text-anchor="end">-0.08</text>
<text x="85.2" y="1424.9" text-anchor="end">-0.06</text>
<text x="85.2" y="1382.7" text-anchor="end">-0.04</text>
<text x="85.2" y="1340.5" text-anchor="end">-0.02</text>
<text x="85.2" y="1298.3" text-anchor="end">0</text>
<text x="85.2" y="1256.1" text-anchor="end">0.02</text>
<text x="85.2" y="1213.9" text-anchor="end">0.04</text>
<text x="85.2" y="1171.7" text-anchor="end">0.06</text>
<text x="85.2" y="1129.5" text-anchor="end">0.08</text>
<text x="85.2" y="1087.3" text-anchor="end">0.1</text>
<text x="85.2" y="1045.1" text-anchor="end">0.12</text>
<text x="85.2" y="1002.9" text-anchor="end">0.14</text>
<text x="174.4" y="1664.4" text-anchor="middle">-0.15</text>
<text x="283.8" y="1664.4" text-anchor="middle">-0.1</text>
<text x="393.1" y="1664.4" text-anchor="middle">-0.05</text>
<text x="502.5" y="1664.4" text-anchor="middle">0</text>
<text x="611.9" y="1664.4" text-anchor="middle">0.05</text>
<text x="721.2" y="1664.4" text-anchor="middle">0.1</text>
<text x="830.6" y="1664.4" text-anchor="middle">0.15</text>
<text x="13.5" y="951.7">m</text>
<text x="898.5" y="1664.4">m</text>
<rect x="931.5" y="983.0" width="12.5" height="647.0" fill="url(#cb)"/>
<text x="951" y="1572.4">0.2</text>
<text x="951" y="1501.2">0.4</text>
<text x="951" y="1430.1">0.6</text>
<text x="951" y="1358.9">0.8</text>
<text x="951" y="1287.7">1</text>
<text x="951" y="1216.5">1.2</text>
<text x="951" y="1145.3">1.4</text>
<text x="951" y="1074.2">1.6</text>
<text x="951" y="1003.0">1.8</text>
<path d="M931.5 1564.8h3M944 1564.8h-3M931.5 1493.6h3M944 1493.6h-3M931.5 1422.5h3M944 1422.5h-3M931.5 1351.3h3M944 1351.3h-3M931.5 1280.1h3M944 1280.1h-3M931.5 1208.9h3M944 1208.9h-3M931.5 1137.7h3M944 1137.7h-3M931.5 1066.6h3M944 1066.6h-3M931.5 995.4h3M944 995.4h-3" stroke="#000" stroke-opacity="0.45" stroke-width="1.3" fill="none"/>
<text x="945.5" y="969.0">×10<tspan font-size="14" dy="-10">3</tspan></text>
</g>
<g font-family="Liberation Serif, serif" fill="#111">
<text transform="translate(5.5,62.5) scale(0.955,1)" font-size="62" font-weight="bold">(a)</text>
<text transform="translate(5.5,893) scale(0.955,1)" font-size="62" font-weight="bold">(b)</text>
<text transform="translate(896.5,54.0) scale(1,1.1)" x="0" y="31" font-size="43.5">[</text>
<text x="911.0" y="85.0" font-size="43.5">V/m</text>
<text transform="translate(988.3,54.0) scale(1,1.1)" x="0" y="31" font-size="43.5">]</text>
<text transform="translate(891.0,888.5) scale(1,1.1)" x="0" y="31" font-size="43.5">[</text>
<text x="905.5" y="919.5" font-size="43.5">V/m</text>
<text transform="translate(982.8,888.5) scale(1,1.1)" x="0" y="31" font-size="43.5">]</text>
</g>
</svg>
</body></html>
